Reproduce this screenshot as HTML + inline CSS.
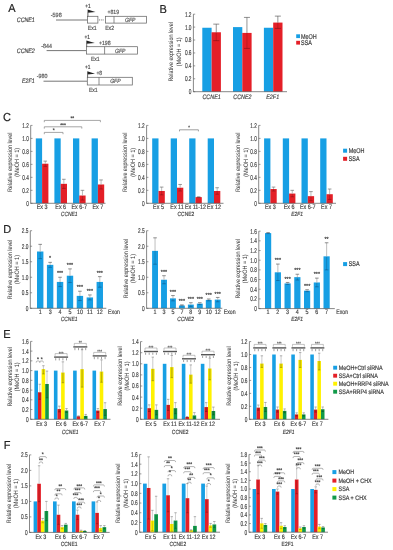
<!DOCTYPE html><html><head><meta charset="utf-8"><style>html,body{margin:0;padding:0;background:#fff;width:393px;height:550px;overflow:hidden}svg{display:block;filter:blur(0.35px)}text{text-rendering:geometricPrecision;font-family:"Liberation Sans", sans-serif}</style></head><body>
<svg width="393" height="550" viewBox="0 0 393 550">
<rect width="393" height="550" fill="#fff"/>
<text x="8.3" y="12.3" font-size="11.6" textLength="7.35" lengthAdjust="spacingAndGlyphs" fill="#222" stroke="#222" stroke-width="0.18">A</text>
<text x="159.4" y="12.6" font-size="11.6" textLength="7.35" lengthAdjust="spacingAndGlyphs" fill="#222" stroke="#222" stroke-width="0.18">B</text>
<text x="3.0" y="121.0" font-size="11.6" textLength="7.96" lengthAdjust="spacingAndGlyphs" fill="#222" stroke="#222" stroke-width="0.18">C</text>
<text x="3.2" y="232.6" font-size="11.6" textLength="7.96" lengthAdjust="spacingAndGlyphs" fill="#222" stroke="#222" stroke-width="0.18">D</text>
<text x="3.3" y="338.2" font-size="11.6" textLength="7.35" lengthAdjust="spacingAndGlyphs" fill="#222" stroke="#222" stroke-width="0.18">E</text>
<text x="3.8" y="448.6" font-size="11.6" textLength="6.73" lengthAdjust="spacingAndGlyphs" fill="#222" stroke="#222" stroke-width="0.18">F</text>
<text x="16.8" y="22.1" font-size="6.4" font-style="italic" textLength="18" lengthAdjust="spacingAndGlyphs" fill="#444" stroke="#444" stroke-width="0.18">CCNE1</text>
<text x="50.7" y="17.1" font-size="6.0" textLength="11" lengthAdjust="spacingAndGlyphs" fill="#555" stroke="#555" stroke-width="0.18">-598</text>
<line x1="56.00" y1="20.00" x2="87.60" y2="20.00" stroke="#666" stroke-width="0.9"/>
<rect x="87.60" y="16.30" width="10.30" height="6.80" fill="#fff" stroke="#666" stroke-width="0.75"/>
<line x1="87.90" y1="16.30" x2="87.90" y2="12.50" stroke="#222" stroke-width="0.7"/>
<polygon points="87.60,9.50 95.50,12.00 87.60,12.80" fill="#222"/>
<text x="85.3" y="7.7" font-size="6.0" textLength="5.47" lengthAdjust="spacingAndGlyphs" fill="#444" stroke="#444" stroke-width="0.18">+1</text>
<text x="92.2" y="29.6" font-size="6.0" text-anchor="middle" textLength="8.79" lengthAdjust="spacingAndGlyphs" fill="#555" stroke="#555" stroke-width="0.18">Ex1</text>
<rect x="98.95" y="19.50" width="0.90" height="0.90" fill="#555"/>
<rect x="100.85" y="19.50" width="0.90" height="0.90" fill="#555"/>
<rect x="102.65" y="19.50" width="0.90" height="0.90" fill="#555"/>
<rect x="105.50" y="16.30" width="41.10" height="6.80" fill="#fff" stroke="#666" stroke-width="0.75"/>
<line x1="114.00" y1="16.30" x2="114.00" y2="23.10" stroke="#666" stroke-width="0.75"/>
<text x="130.3" y="21.6" font-size="6.0" font-style="italic" text-anchor="middle" textLength="10.48" lengthAdjust="spacingAndGlyphs" fill="#555" stroke="#555" stroke-width="0.18">GFP</text>
<text x="107.4" y="13.7" font-size="6.0" textLength="11.7" lengthAdjust="spacingAndGlyphs" fill="#555" stroke="#555" stroke-width="0.18">+819</text>
<text x="109.6" y="29.8" font-size="6.0" text-anchor="middle" textLength="8.79" lengthAdjust="spacingAndGlyphs" fill="#555" stroke="#555" stroke-width="0.18">Ex2</text>
<text x="16.8" y="52.9" font-size="6.4" font-style="italic" textLength="18" lengthAdjust="spacingAndGlyphs" fill="#444" stroke="#444" stroke-width="0.18">CCNE2</text>
<text x="41.2" y="48.0" font-size="6.0" textLength="10.7" lengthAdjust="spacingAndGlyphs" fill="#555" stroke="#555" stroke-width="0.18">-844</text>
<line x1="46.60" y1="50.60" x2="86.40" y2="50.60" stroke="#666" stroke-width="0.9"/>
<rect x="86.40" y="46.70" width="51.20" height="7.40" fill="#fff" stroke="#666" stroke-width="0.75"/>
<line x1="104.60" y1="46.70" x2="104.60" y2="54.10" stroke="#666" stroke-width="0.75"/>
<text x="120.3" y="52.6" font-size="6.0" font-style="italic" text-anchor="middle" textLength="10.48" lengthAdjust="spacingAndGlyphs" fill="#555" stroke="#555" stroke-width="0.18">GFP</text>
<line x1="86.70" y1="46.70" x2="86.70" y2="43.40" stroke="#222" stroke-width="0.7"/>
<polygon points="86.40,40.40 94.80,42.90 86.40,43.70" fill="#222"/>
<text x="84.4" y="38.5" font-size="6.0" textLength="5.47" lengthAdjust="spacingAndGlyphs" fill="#444" stroke="#444" stroke-width="0.18">+1</text>
<text x="98.9" y="45.3" font-size="6.0" textLength="11.8" lengthAdjust="spacingAndGlyphs" fill="#555" stroke="#555" stroke-width="0.18">+198</text>
<text x="95.3" y="60.8" font-size="6.0" text-anchor="middle" textLength="8.79" lengthAdjust="spacingAndGlyphs" fill="#555" stroke="#555" stroke-width="0.18">Ex1</text>
<text x="22.1" y="83.2" font-size="6.4" font-style="italic" textLength="12.5" lengthAdjust="spacingAndGlyphs" fill="#444" stroke="#444" stroke-width="0.18">E2F1</text>
<text x="36.7" y="78.2" font-size="6.0" textLength="10.7" lengthAdjust="spacingAndGlyphs" fill="#555" stroke="#555" stroke-width="0.18">-980</text>
<line x1="43.50" y1="81.20" x2="87.30" y2="81.20" stroke="#666" stroke-width="0.9"/>
<rect x="87.30" y="77.30" width="45.00" height="7.70" fill="#fff" stroke="#666" stroke-width="0.75"/>
<line x1="99.00" y1="77.30" x2="99.00" y2="85.00" stroke="#666" stroke-width="0.75"/>
<text x="115.4" y="83.2" font-size="6.0" font-style="italic" text-anchor="middle" textLength="10.48" lengthAdjust="spacingAndGlyphs" fill="#555" stroke="#555" stroke-width="0.18">GFP</text>
<line x1="87.60" y1="77.30" x2="87.60" y2="74.30" stroke="#222" stroke-width="0.7"/>
<polygon points="87.30,71.30 95.00,73.80 87.30,74.60" fill="#222"/>
<text x="84.9" y="69.3" font-size="6.0" textLength="5.47" lengthAdjust="spacingAndGlyphs" fill="#444" stroke="#444" stroke-width="0.18">+1</text>
<text x="96.4" y="75.1" font-size="6.0" textLength="5.81" lengthAdjust="spacingAndGlyphs" fill="#555" stroke="#555" stroke-width="0.18">+8</text>
<text x="93.3" y="91.8" font-size="6.0" text-anchor="middle" textLength="8.79" lengthAdjust="spacingAndGlyphs" fill="#555" stroke="#555" stroke-width="0.18">Ex1</text>
<rect x="202.30" y="27.75" width="9.30" height="63.95" fill="#179fe4"/>
<rect x="211.60" y="32.27" width="9.30" height="59.43" fill="#e41f27"/>
<rect x="233.00" y="27.10" width="9.30" height="64.60" fill="#179fe4"/>
<rect x="242.30" y="32.91" width="9.30" height="58.79" fill="#e41f27"/>
<rect x="263.90" y="27.75" width="9.30" height="63.95" fill="#179fe4"/>
<rect x="273.20" y="22.58" width="9.30" height="69.12" fill="#e41f27"/>
<line x1="216.25" y1="24.13" x2="216.25" y2="32.27" stroke="#666" stroke-width="0.7"/>
<line x1="213.25" y1="24.13" x2="219.25" y2="24.13" stroke="#555" stroke-width="0.65"/>
<line x1="216.25" y1="32.27" x2="216.25" y2="40.67" stroke="rgba(0,0,0,0.28)" stroke-width="0.6"/>
<line x1="213.25" y1="40.67" x2="219.25" y2="40.67" stroke="rgba(0,0,0,0.45)" stroke-width="0.6"/>
<line x1="246.95" y1="17.41" x2="246.95" y2="32.91" stroke="#666" stroke-width="0.7"/>
<line x1="243.95" y1="17.41" x2="249.95" y2="17.41" stroke="#555" stroke-width="0.65"/>
<line x1="246.95" y1="32.91" x2="246.95" y2="48.42" stroke="rgba(0,0,0,0.28)" stroke-width="0.6"/>
<line x1="243.95" y1="48.42" x2="249.95" y2="48.42" stroke="rgba(0,0,0,0.45)" stroke-width="0.6"/>
<line x1="277.85" y1="16.12" x2="277.85" y2="22.58" stroke="#666" stroke-width="0.7"/>
<line x1="274.85" y1="16.12" x2="280.85" y2="16.12" stroke="#555" stroke-width="0.65"/>
<line x1="277.85" y1="22.58" x2="277.85" y2="28.39" stroke="rgba(0,0,0,0.28)" stroke-width="0.6"/>
<line x1="274.85" y1="28.39" x2="280.85" y2="28.39" stroke="rgba(0,0,0,0.45)" stroke-width="0.6"/>
<line x1="193.40" y1="14.18" x2="193.40" y2="92.05" stroke="#555" stroke-width="0.7"/>
<line x1="193.40" y1="91.70" x2="287.00" y2="91.70" stroke="#555" stroke-width="0.7"/>
<line x1="193.40" y1="91.70" x2="195.20" y2="91.70" stroke="#555" stroke-width="0.6"/>
<text x="191.5" y="94.15" font-size="7.0" text-anchor="end" textLength="2.65" lengthAdjust="spacingAndGlyphs" fill="#444" stroke="#444" stroke-width="0.18">0</text>
<line x1="193.40" y1="78.78" x2="195.20" y2="78.78" stroke="#555" stroke-width="0.6"/>
<text x="191.5" y="81.23" font-size="7.0" text-anchor="end" textLength="6.62" lengthAdjust="spacingAndGlyphs" fill="#444" stroke="#444" stroke-width="0.18">0.2</text>
<line x1="193.40" y1="65.86" x2="195.20" y2="65.86" stroke="#555" stroke-width="0.6"/>
<text x="191.5" y="68.31" font-size="7.0" text-anchor="end" textLength="6.62" lengthAdjust="spacingAndGlyphs" fill="#444" stroke="#444" stroke-width="0.18">0.4</text>
<line x1="193.40" y1="52.94" x2="195.20" y2="52.94" stroke="#555" stroke-width="0.6"/>
<text x="191.5" y="55.39000000000001" font-size="7.0" text-anchor="end" textLength="6.62" lengthAdjust="spacingAndGlyphs" fill="#444" stroke="#444" stroke-width="0.18">0.6</text>
<line x1="193.40" y1="40.02" x2="195.20" y2="40.02" stroke="#555" stroke-width="0.6"/>
<text x="191.5" y="42.470000000000006" font-size="7.0" text-anchor="end" textLength="6.62" lengthAdjust="spacingAndGlyphs" fill="#444" stroke="#444" stroke-width="0.18">0.8</text>
<line x1="193.40" y1="27.10" x2="195.20" y2="27.10" stroke="#555" stroke-width="0.6"/>
<text x="191.5" y="29.550000000000008" font-size="7.0" text-anchor="end" textLength="6.62" lengthAdjust="spacingAndGlyphs" fill="#444" stroke="#444" stroke-width="0.18">1.0</text>
<line x1="193.40" y1="14.18" x2="195.20" y2="14.18" stroke="#555" stroke-width="0.6"/>
<text x="191.5" y="16.630000000000006" font-size="7.0" text-anchor="end" textLength="6.62" lengthAdjust="spacingAndGlyphs" fill="#444" stroke="#444" stroke-width="0.18">1.2</text>
<text x="211.6" y="99.0" font-size="6.5" font-style="italic" text-anchor="middle" textLength="18.29" lengthAdjust="spacingAndGlyphs" fill="#444" stroke="#444" stroke-width="0.18">CCNE1</text>
<text x="242.4" y="99.0" font-size="6.5" font-style="italic" text-anchor="middle" textLength="18.29" lengthAdjust="spacingAndGlyphs" fill="#444" stroke="#444" stroke-width="0.18">CCNE2</text>
<text x="272.7" y="99.0" font-size="6.5" font-style="italic" text-anchor="middle" textLength="12.89" lengthAdjust="spacingAndGlyphs" fill="#444" stroke="#444" stroke-width="0.18">E2F1</text>
<text x="173.0" y="51.8" font-size="6.4" text-anchor="middle" textLength="59.5" lengthAdjust="spacingAndGlyphs" transform="rotate(-90 173.0 51.8)" fill="#333">Relative expression level</text>
<text x="181.1" y="51.8" font-size="6.4" text-anchor="middle" textLength="29.0" lengthAdjust="spacingAndGlyphs" transform="rotate(-90 181.1 51.8)" fill="#333">(MeOH = 1)</text>
<rect x="296.20" y="34.30" width="3.80" height="3.80" fill="#179fe4"/>
<text x="301.0" y="38.6" font-size="6.8" textLength="15.72" lengthAdjust="spacingAndGlyphs" fill="#3a3a3a" stroke="#3a3a3a" stroke-width="0.18">MeOH</text>
<rect x="296.20" y="40.80" width="3.80" height="3.80" fill="#e41f27"/>
<text x="301.0" y="45.0" font-size="6.8" textLength="10.89" lengthAdjust="spacingAndGlyphs" fill="#3a3a3a" stroke="#3a3a3a" stroke-width="0.18">SSA</text>
<rect x="35.80" y="138.40" width="6.30" height="64.90" fill="#179fe4"/>
<rect x="42.10" y="163.71" width="6.30" height="39.59" fill="#e41f27"/>
<rect x="54.40" y="138.40" width="6.30" height="64.90" fill="#179fe4"/>
<rect x="60.70" y="183.83" width="6.30" height="19.47" fill="#e41f27"/>
<rect x="73.00" y="138.40" width="6.30" height="64.90" fill="#179fe4"/>
<rect x="79.30" y="195.51" width="6.30" height="7.79" fill="#e41f27"/>
<rect x="91.60" y="138.40" width="6.30" height="64.90" fill="#179fe4"/>
<rect x="97.90" y="184.48" width="6.30" height="18.82" fill="#e41f27"/>
<line x1="45.25" y1="161.12" x2="45.25" y2="163.71" stroke="#bbb" stroke-width="1.0"/>
<line x1="43.45" y1="161.12" x2="47.05" y2="161.12" stroke="#666" stroke-width="0.65"/>
<line x1="45.25" y1="163.71" x2="45.25" y2="166.31" stroke="rgba(0,0,0,0.28)" stroke-width="0.6"/>
<line x1="43.45" y1="166.31" x2="47.05" y2="166.31" stroke="rgba(0,0,0,0.4)" stroke-width="0.6"/>
<line x1="63.85" y1="179.29" x2="63.85" y2="183.83" stroke="#bbb" stroke-width="1.0"/>
<line x1="62.05" y1="179.29" x2="65.65" y2="179.29" stroke="#666" stroke-width="0.65"/>
<line x1="63.85" y1="183.83" x2="63.85" y2="188.37" stroke="rgba(0,0,0,0.28)" stroke-width="0.6"/>
<line x1="62.05" y1="188.37" x2="65.65" y2="188.37" stroke="rgba(0,0,0,0.4)" stroke-width="0.6"/>
<line x1="82.45" y1="190.32" x2="82.45" y2="195.51" stroke="#bbb" stroke-width="1.0"/>
<line x1="80.65" y1="190.32" x2="84.25" y2="190.32" stroke="#666" stroke-width="0.65"/>
<line x1="82.45" y1="195.51" x2="82.45" y2="200.06" stroke="rgba(0,0,0,0.28)" stroke-width="0.6"/>
<line x1="80.65" y1="200.06" x2="84.25" y2="200.06" stroke="rgba(0,0,0,0.4)" stroke-width="0.6"/>
<line x1="101.05" y1="179.94" x2="101.05" y2="184.48" stroke="#bbb" stroke-width="1.0"/>
<line x1="99.25" y1="179.94" x2="102.85" y2="179.94" stroke="#666" stroke-width="0.65"/>
<line x1="101.05" y1="184.48" x2="101.05" y2="189.02" stroke="rgba(0,0,0,0.28)" stroke-width="0.6"/>
<line x1="99.25" y1="189.02" x2="102.85" y2="189.02" stroke="rgba(0,0,0,0.4)" stroke-width="0.6"/>
<line x1="30.70" y1="125.42" x2="30.70" y2="203.65" stroke="#555" stroke-width="0.7"/>
<line x1="30.70" y1="203.30" x2="105.50" y2="203.30" stroke="#555" stroke-width="0.7"/>
<line x1="30.70" y1="203.30" x2="32.50" y2="203.30" stroke="#555" stroke-width="0.6"/>
<text x="28.8" y="205.75" font-size="7.0" text-anchor="end" textLength="2.65" lengthAdjust="spacingAndGlyphs" fill="#444" stroke="#444" stroke-width="0.18">0</text>
<line x1="30.70" y1="190.32" x2="32.50" y2="190.32" stroke="#555" stroke-width="0.6"/>
<text x="28.8" y="192.77" font-size="7.0" text-anchor="end" textLength="6.62" lengthAdjust="spacingAndGlyphs" fill="#444" stroke="#444" stroke-width="0.18">0.2</text>
<line x1="30.70" y1="177.34" x2="32.50" y2="177.34" stroke="#555" stroke-width="0.6"/>
<text x="28.8" y="179.79" font-size="7.0" text-anchor="end" textLength="6.62" lengthAdjust="spacingAndGlyphs" fill="#444" stroke="#444" stroke-width="0.18">0.4</text>
<line x1="30.70" y1="164.36" x2="32.50" y2="164.36" stroke="#555" stroke-width="0.6"/>
<text x="28.8" y="166.81" font-size="7.0" text-anchor="end" textLength="6.62" lengthAdjust="spacingAndGlyphs" fill="#444" stroke="#444" stroke-width="0.18">0.6</text>
<line x1="30.70" y1="151.38" x2="32.50" y2="151.38" stroke="#555" stroke-width="0.6"/>
<text x="28.8" y="153.82999999999998" font-size="7.0" text-anchor="end" textLength="6.62" lengthAdjust="spacingAndGlyphs" fill="#444" stroke="#444" stroke-width="0.18">0.8</text>
<line x1="30.70" y1="138.40" x2="32.50" y2="138.40" stroke="#555" stroke-width="0.6"/>
<text x="28.8" y="140.85" font-size="7.0" text-anchor="end" textLength="6.62" lengthAdjust="spacingAndGlyphs" fill="#444" stroke="#444" stroke-width="0.18">1.0</text>
<line x1="30.70" y1="125.42" x2="32.50" y2="125.42" stroke="#555" stroke-width="0.6"/>
<text x="28.8" y="127.87" font-size="7.0" text-anchor="end" textLength="6.62" lengthAdjust="spacingAndGlyphs" fill="#444" stroke="#444" stroke-width="0.18">1.2</text>
<text x="42.099999999999994" y="209.4" font-size="6.5" text-anchor="middle" textLength="10.8" lengthAdjust="spacingAndGlyphs" fill="#444" stroke="#444" stroke-width="0.18">Ex 3</text>
<text x="60.699999999999996" y="209.4" font-size="6.5" text-anchor="middle" textLength="10.8" lengthAdjust="spacingAndGlyphs" fill="#444" stroke="#444" stroke-width="0.18">Ex 6</text>
<text x="79.3" y="209.4" font-size="6.5" text-anchor="middle" textLength="15.59" lengthAdjust="spacingAndGlyphs" fill="#444" stroke="#444" stroke-width="0.18">Ex 6-7</text>
<text x="97.89999999999999" y="209.4" font-size="6.5" text-anchor="middle" textLength="10.8" lengthAdjust="spacingAndGlyphs" fill="#444" stroke="#444" stroke-width="0.18">Ex 7</text>
<text x="69.2" y="216.4" font-size="6.0" font-style="italic" text-anchor="middle" textLength="16.68" lengthAdjust="spacingAndGlyphs" fill="#444" stroke="#444" stroke-width="0.18">CCNE1</text>
<text x="12.2" y="162.3" font-size="6.4" text-anchor="middle" textLength="59.5" lengthAdjust="spacingAndGlyphs" transform="rotate(-90 12.2 162.3)" fill="#333">Relative expression level</text>
<text x="19.099999999999998" y="162.3" font-size="6.4" text-anchor="middle" textLength="29.0" lengthAdjust="spacingAndGlyphs" transform="rotate(-90 19.099999999999998 162.3)" fill="#333">(MeOH = 1)</text>
<line x1="44.30" y1="120.40" x2="100.40" y2="120.40" stroke="#888" stroke-width="0.75"/>
<line x1="44.30" y1="120.40" x2="44.30" y2="122.20" stroke="#888" stroke-width="0.75"/>
<line x1="100.40" y1="120.40" x2="100.40" y2="122.20" stroke="#888" stroke-width="0.75"/>
<text x="72.35" y="120.2" font-size="5.4" text-anchor="middle" textLength="3.78" lengthAdjust="spacingAndGlyphs" fill="#444" stroke="#444" stroke-width="0.18">**</text>
<line x1="44.30" y1="126.80" x2="81.80" y2="126.80" stroke="#888" stroke-width="0.75"/>
<line x1="44.30" y1="126.80" x2="44.30" y2="128.60" stroke="#888" stroke-width="0.75"/>
<line x1="81.80" y1="126.80" x2="81.80" y2="128.60" stroke="#888" stroke-width="0.75"/>
<text x="63.05" y="126.6" font-size="5.4" text-anchor="middle" textLength="5.67" lengthAdjust="spacingAndGlyphs" fill="#444" stroke="#444" stroke-width="0.18">***</text>
<line x1="44.30" y1="132.40" x2="63.00" y2="132.40" stroke="#888" stroke-width="0.75"/>
<line x1="44.30" y1="132.40" x2="44.30" y2="134.20" stroke="#888" stroke-width="0.75"/>
<line x1="63.00" y1="132.40" x2="63.00" y2="134.20" stroke="#888" stroke-width="0.75"/>
<text x="53.65" y="132.20000000000002" font-size="5.4" text-anchor="middle" textLength="1.89" lengthAdjust="spacingAndGlyphs" fill="#444" stroke="#444" stroke-width="0.18">*</text>
<rect x="152.20" y="138.40" width="6.30" height="64.90" fill="#179fe4"/>
<rect x="158.50" y="190.97" width="6.30" height="12.33" fill="#e41f27"/>
<rect x="170.70" y="138.40" width="6.30" height="64.90" fill="#179fe4"/>
<rect x="177.00" y="187.72" width="6.30" height="15.58" fill="#e41f27"/>
<rect x="189.20" y="138.40" width="6.30" height="64.90" fill="#179fe4"/>
<rect x="195.50" y="197.13" width="6.30" height="6.17" fill="#e41f27"/>
<rect x="207.70" y="138.40" width="6.30" height="64.90" fill="#179fe4"/>
<rect x="214.00" y="190.97" width="6.30" height="12.33" fill="#e41f27"/>
<line x1="161.65" y1="187.08" x2="161.65" y2="190.97" stroke="#bbb" stroke-width="1.0"/>
<line x1="159.85" y1="187.08" x2="163.45" y2="187.08" stroke="#666" stroke-width="0.65"/>
<line x1="161.65" y1="190.97" x2="161.65" y2="194.86" stroke="rgba(0,0,0,0.28)" stroke-width="0.6"/>
<line x1="159.85" y1="194.86" x2="163.45" y2="194.86" stroke="rgba(0,0,0,0.4)" stroke-width="0.6"/>
<line x1="180.15" y1="184.48" x2="180.15" y2="187.72" stroke="#bbb" stroke-width="1.0"/>
<line x1="178.35" y1="184.48" x2="181.95" y2="184.48" stroke="#666" stroke-width="0.65"/>
<line x1="180.15" y1="187.72" x2="180.15" y2="190.97" stroke="rgba(0,0,0,0.28)" stroke-width="0.6"/>
<line x1="178.35" y1="190.97" x2="181.95" y2="190.97" stroke="rgba(0,0,0,0.4)" stroke-width="0.6"/>
<line x1="198.65" y1="196.81" x2="198.65" y2="197.13" stroke="#bbb" stroke-width="1.0"/>
<line x1="196.85" y1="196.81" x2="200.45" y2="196.81" stroke="#666" stroke-width="0.65"/>
<line x1="198.65" y1="197.13" x2="198.65" y2="197.46" stroke="rgba(0,0,0,0.28)" stroke-width="0.6"/>
<line x1="196.85" y1="197.46" x2="200.45" y2="197.46" stroke="rgba(0,0,0,0.4)" stroke-width="0.6"/>
<line x1="217.15" y1="187.72" x2="217.15" y2="190.97" stroke="#bbb" stroke-width="1.0"/>
<line x1="215.35" y1="187.72" x2="218.95" y2="187.72" stroke="#666" stroke-width="0.65"/>
<line x1="217.15" y1="190.97" x2="217.15" y2="194.21" stroke="rgba(0,0,0,0.28)" stroke-width="0.6"/>
<line x1="215.35" y1="194.21" x2="218.95" y2="194.21" stroke="rgba(0,0,0,0.4)" stroke-width="0.6"/>
<line x1="146.60" y1="125.42" x2="146.60" y2="203.65" stroke="#555" stroke-width="0.7"/>
<line x1="146.60" y1="203.30" x2="223.50" y2="203.30" stroke="#555" stroke-width="0.7"/>
<line x1="146.60" y1="203.30" x2="148.40" y2="203.30" stroke="#555" stroke-width="0.6"/>
<text x="144.7" y="205.75" font-size="7.0" text-anchor="end" textLength="2.65" lengthAdjust="spacingAndGlyphs" fill="#444" stroke="#444" stroke-width="0.18">0</text>
<line x1="146.60" y1="190.32" x2="148.40" y2="190.32" stroke="#555" stroke-width="0.6"/>
<text x="144.7" y="192.77" font-size="7.0" text-anchor="end" textLength="6.62" lengthAdjust="spacingAndGlyphs" fill="#444" stroke="#444" stroke-width="0.18">0.2</text>
<line x1="146.60" y1="177.34" x2="148.40" y2="177.34" stroke="#555" stroke-width="0.6"/>
<text x="144.7" y="179.79" font-size="7.0" text-anchor="end" textLength="6.62" lengthAdjust="spacingAndGlyphs" fill="#444" stroke="#444" stroke-width="0.18">0.4</text>
<line x1="146.60" y1="164.36" x2="148.40" y2="164.36" stroke="#555" stroke-width="0.6"/>
<text x="144.7" y="166.81" font-size="7.0" text-anchor="end" textLength="6.62" lengthAdjust="spacingAndGlyphs" fill="#444" stroke="#444" stroke-width="0.18">0.6</text>
<line x1="146.60" y1="151.38" x2="148.40" y2="151.38" stroke="#555" stroke-width="0.6"/>
<text x="144.7" y="153.82999999999998" font-size="7.0" text-anchor="end" textLength="6.62" lengthAdjust="spacingAndGlyphs" fill="#444" stroke="#444" stroke-width="0.18">0.8</text>
<line x1="146.60" y1="138.40" x2="148.40" y2="138.40" stroke="#555" stroke-width="0.6"/>
<text x="144.7" y="140.85" font-size="7.0" text-anchor="end" textLength="6.62" lengthAdjust="spacingAndGlyphs" fill="#444" stroke="#444" stroke-width="0.18">1.0</text>
<line x1="146.60" y1="125.42" x2="148.40" y2="125.42" stroke="#555" stroke-width="0.6"/>
<text x="144.7" y="127.87" font-size="7.0" text-anchor="end" textLength="6.62" lengthAdjust="spacingAndGlyphs" fill="#444" stroke="#444" stroke-width="0.18">1.2</text>
<text x="158.5" y="209.4" font-size="6.5" text-anchor="middle" textLength="10.8" lengthAdjust="spacingAndGlyphs" fill="#444" stroke="#444" stroke-width="0.18">Ex 5</text>
<text x="177.0" y="209.4" font-size="6.5" text-anchor="middle" textLength="13.39" lengthAdjust="spacingAndGlyphs" fill="#444" stroke="#444" stroke-width="0.18">Ex 11</text>
<text x="195.5" y="209.4" font-size="6.5" text-anchor="middle" textLength="21.19" lengthAdjust="spacingAndGlyphs" fill="#444" stroke="#444" stroke-width="0.18">Ex 11-12</text>
<text x="214.0" y="209.4" font-size="6.5" text-anchor="middle" textLength="13.8" lengthAdjust="spacingAndGlyphs" fill="#444" stroke="#444" stroke-width="0.18">Ex 12</text>
<text x="185.9" y="216.4" font-size="6.0" text-anchor="middle" textLength="16.68" lengthAdjust="spacingAndGlyphs" fill="#444" stroke="#444" stroke-width="0.18">CCNE2</text>
<text x="127.2" y="162.3" font-size="6.4" text-anchor="middle" textLength="59.5" lengthAdjust="spacingAndGlyphs" transform="rotate(-90 127.2 162.3)" fill="#333">Relative expression level</text>
<text x="135.4" y="162.3" font-size="6.4" text-anchor="middle" textLength="29.0" lengthAdjust="spacingAndGlyphs" transform="rotate(-90 135.4 162.3)" fill="#333">(MeOH = 1)</text>
<line x1="179.50" y1="129.80" x2="198.40" y2="129.80" stroke="#777" stroke-width="0.7"/>
<line x1="179.50" y1="129.80" x2="179.50" y2="131.40" stroke="#777" stroke-width="0.7"/>
<line x1="198.40" y1="129.80" x2="198.40" y2="131.40" stroke="#777" stroke-width="0.7"/>
<text x="189" y="129.3" font-size="5" text-anchor="middle" textLength="1.65" lengthAdjust="spacingAndGlyphs" fill="#444" stroke="#444" stroke-width="0.18">*</text>
<rect x="264.10" y="138.40" width="6.30" height="64.90" fill="#179fe4"/>
<rect x="270.40" y="189.02" width="6.30" height="14.28" fill="#e41f27"/>
<rect x="282.80" y="138.40" width="6.30" height="64.90" fill="#179fe4"/>
<rect x="289.10" y="193.56" width="6.30" height="9.74" fill="#e41f27"/>
<rect x="301.50" y="138.40" width="6.30" height="64.90" fill="#179fe4"/>
<rect x="307.80" y="196.16" width="6.30" height="7.14" fill="#e41f27"/>
<rect x="320.20" y="138.40" width="6.30" height="64.90" fill="#179fe4"/>
<rect x="326.50" y="194.21" width="6.30" height="9.09" fill="#e41f27"/>
<line x1="273.55" y1="187.08" x2="273.55" y2="189.02" stroke="#bbb" stroke-width="1.0"/>
<line x1="271.75" y1="187.08" x2="275.35" y2="187.08" stroke="#666" stroke-width="0.65"/>
<line x1="273.55" y1="189.02" x2="273.55" y2="190.97" stroke="rgba(0,0,0,0.28)" stroke-width="0.6"/>
<line x1="271.75" y1="190.97" x2="275.35" y2="190.97" stroke="rgba(0,0,0,0.4)" stroke-width="0.6"/>
<line x1="292.25" y1="190.32" x2="292.25" y2="193.56" stroke="#bbb" stroke-width="1.0"/>
<line x1="290.45" y1="190.32" x2="294.05" y2="190.32" stroke="#666" stroke-width="0.65"/>
<line x1="292.25" y1="193.56" x2="292.25" y2="196.81" stroke="rgba(0,0,0,0.28)" stroke-width="0.6"/>
<line x1="290.45" y1="196.81" x2="294.05" y2="196.81" stroke="rgba(0,0,0,0.4)" stroke-width="0.6"/>
<line x1="310.95" y1="191.62" x2="310.95" y2="196.16" stroke="#bbb" stroke-width="1.0"/>
<line x1="309.15" y1="191.62" x2="312.75" y2="191.62" stroke="#666" stroke-width="0.65"/>
<line x1="310.95" y1="196.16" x2="310.95" y2="200.70" stroke="rgba(0,0,0,0.28)" stroke-width="0.6"/>
<line x1="309.15" y1="200.70" x2="312.75" y2="200.70" stroke="rgba(0,0,0,0.4)" stroke-width="0.6"/>
<line x1="329.65" y1="189.02" x2="329.65" y2="194.21" stroke="#bbb" stroke-width="1.0"/>
<line x1="327.85" y1="189.02" x2="331.45" y2="189.02" stroke="#666" stroke-width="0.65"/>
<line x1="329.65" y1="194.21" x2="329.65" y2="199.41" stroke="rgba(0,0,0,0.28)" stroke-width="0.6"/>
<line x1="327.85" y1="199.41" x2="331.45" y2="199.41" stroke="rgba(0,0,0,0.4)" stroke-width="0.6"/>
<line x1="258.70" y1="125.42" x2="258.70" y2="203.65" stroke="#555" stroke-width="0.7"/>
<line x1="258.70" y1="203.30" x2="336.00" y2="203.30" stroke="#555" stroke-width="0.7"/>
<line x1="258.70" y1="203.30" x2="260.50" y2="203.30" stroke="#555" stroke-width="0.6"/>
<text x="256.8" y="205.75" font-size="7.0" text-anchor="end" textLength="2.65" lengthAdjust="spacingAndGlyphs" fill="#444" stroke="#444" stroke-width="0.18">0</text>
<line x1="258.70" y1="190.32" x2="260.50" y2="190.32" stroke="#555" stroke-width="0.6"/>
<text x="256.8" y="192.77" font-size="7.0" text-anchor="end" textLength="6.62" lengthAdjust="spacingAndGlyphs" fill="#444" stroke="#444" stroke-width="0.18">0.2</text>
<line x1="258.70" y1="177.34" x2="260.50" y2="177.34" stroke="#555" stroke-width="0.6"/>
<text x="256.8" y="179.79" font-size="7.0" text-anchor="end" textLength="6.62" lengthAdjust="spacingAndGlyphs" fill="#444" stroke="#444" stroke-width="0.18">0.4</text>
<line x1="258.70" y1="164.36" x2="260.50" y2="164.36" stroke="#555" stroke-width="0.6"/>
<text x="256.8" y="166.81" font-size="7.0" text-anchor="end" textLength="6.62" lengthAdjust="spacingAndGlyphs" fill="#444" stroke="#444" stroke-width="0.18">0.6</text>
<line x1="258.70" y1="151.38" x2="260.50" y2="151.38" stroke="#555" stroke-width="0.6"/>
<text x="256.8" y="153.82999999999998" font-size="7.0" text-anchor="end" textLength="6.62" lengthAdjust="spacingAndGlyphs" fill="#444" stroke="#444" stroke-width="0.18">0.8</text>
<line x1="258.70" y1="138.40" x2="260.50" y2="138.40" stroke="#555" stroke-width="0.6"/>
<text x="256.8" y="140.85" font-size="7.0" text-anchor="end" textLength="6.62" lengthAdjust="spacingAndGlyphs" fill="#444" stroke="#444" stroke-width="0.18">1.0</text>
<line x1="258.70" y1="125.42" x2="260.50" y2="125.42" stroke="#555" stroke-width="0.6"/>
<text x="256.8" y="127.87" font-size="7.0" text-anchor="end" textLength="6.62" lengthAdjust="spacingAndGlyphs" fill="#444" stroke="#444" stroke-width="0.18">1.2</text>
<text x="270.40000000000003" y="209.4" font-size="6.5" text-anchor="middle" textLength="10.8" lengthAdjust="spacingAndGlyphs" fill="#444" stroke="#444" stroke-width="0.18">Ex 3</text>
<text x="289.1" y="209.4" font-size="6.5" text-anchor="middle" textLength="10.8" lengthAdjust="spacingAndGlyphs" fill="#444" stroke="#444" stroke-width="0.18">Ex 6</text>
<text x="307.8" y="209.4" font-size="6.5" text-anchor="middle" textLength="15.59" lengthAdjust="spacingAndGlyphs" fill="#444" stroke="#444" stroke-width="0.18">Ex 6-7</text>
<text x="326.5" y="209.4" font-size="6.5" text-anchor="middle" textLength="10.8" lengthAdjust="spacingAndGlyphs" fill="#444" stroke="#444" stroke-width="0.18">Ex 7</text>
<text x="297.1" y="216.4" font-size="6.0" font-style="italic" text-anchor="middle" textLength="11.76" lengthAdjust="spacingAndGlyphs" fill="#444" stroke="#444" stroke-width="0.18">E2F1</text>
<text x="240.5" y="162.3" font-size="6.4" text-anchor="middle" textLength="59.5" lengthAdjust="spacingAndGlyphs" transform="rotate(-90 240.5 162.3)" fill="#333">Relative expression level</text>
<text x="247.9" y="162.3" font-size="6.4" text-anchor="middle" textLength="29.0" lengthAdjust="spacingAndGlyphs" transform="rotate(-90 247.9 162.3)" fill="#333">(MeOH = 1)</text>
<rect x="343.10" y="148.70" width="4.00" height="4.00" fill="#179fe4"/>
<text x="348.7" y="152.8" font-size="6.8" textLength="15.72" lengthAdjust="spacingAndGlyphs" fill="#3a3a3a" stroke="#3a3a3a" stroke-width="0.18">MeOH</text>
<rect x="343.10" y="156.80" width="4.00" height="4.00" fill="#e41f27"/>
<text x="348.7" y="160.6" font-size="6.8" textLength="10.89" lengthAdjust="spacingAndGlyphs" fill="#3a3a3a" stroke="#3a3a3a" stroke-width="0.18">SSA</text>
<rect x="37.00" y="251.50" width="6.40" height="56.80" fill="#179fe4"/>
<rect x="46.93" y="264.84" width="6.40" height="43.46" fill="#179fe4"/>
<rect x="56.86" y="281.92" width="6.40" height="26.38" fill="#179fe4"/>
<rect x="66.79" y="275.71" width="6.40" height="32.59" fill="#179fe4"/>
<rect x="76.72" y="295.88" width="6.40" height="12.42" fill="#179fe4"/>
<rect x="86.65" y="297.44" width="6.40" height="10.86" fill="#179fe4"/>
<rect x="96.58" y="281.92" width="6.40" height="26.38" fill="#179fe4"/>
<line x1="40.20" y1="244.36" x2="40.20" y2="251.50" stroke="#c4c4c4" stroke-width="1.1"/>
<line x1="38.40" y1="244.36" x2="42.00" y2="244.36" stroke="#555" stroke-width="0.65"/>
<line x1="40.20" y1="251.50" x2="40.20" y2="258.64" stroke="rgba(0,0,0,0.28)" stroke-width="0.6"/>
<line x1="38.40" y1="258.64" x2="42.00" y2="258.64" stroke="rgba(0,0,40,0.45)" stroke-width="0.6"/>
<line x1="50.13" y1="262.36" x2="50.13" y2="264.84" stroke="#c4c4c4" stroke-width="1.1"/>
<line x1="48.33" y1="262.36" x2="51.93" y2="262.36" stroke="#555" stroke-width="0.65"/>
<line x1="50.13" y1="264.84" x2="50.13" y2="267.33" stroke="rgba(0,0,0,0.28)" stroke-width="0.6"/>
<line x1="48.33" y1="267.33" x2="51.93" y2="267.33" stroke="rgba(0,0,40,0.45)" stroke-width="0.6"/>
<line x1="60.06" y1="277.26" x2="60.06" y2="281.92" stroke="#c4c4c4" stroke-width="1.1"/>
<line x1="58.26" y1="277.26" x2="61.86" y2="277.26" stroke="#555" stroke-width="0.65"/>
<line x1="60.06" y1="281.92" x2="60.06" y2="286.57" stroke="rgba(0,0,0,0.28)" stroke-width="0.6"/>
<line x1="58.26" y1="286.57" x2="61.86" y2="286.57" stroke="rgba(0,0,40,0.45)" stroke-width="0.6"/>
<line x1="69.99" y1="268.88" x2="69.99" y2="275.71" stroke="#c4c4c4" stroke-width="1.1"/>
<line x1="68.19" y1="268.88" x2="71.79" y2="268.88" stroke="#555" stroke-width="0.65"/>
<line x1="69.99" y1="275.71" x2="69.99" y2="282.54" stroke="rgba(0,0,0,0.28)" stroke-width="0.6"/>
<line x1="68.19" y1="282.54" x2="71.79" y2="282.54" stroke="rgba(0,0,40,0.45)" stroke-width="0.6"/>
<line x1="79.92" y1="291.23" x2="79.92" y2="295.88" stroke="#c4c4c4" stroke-width="1.1"/>
<line x1="78.12" y1="291.23" x2="81.72" y2="291.23" stroke="#555" stroke-width="0.65"/>
<line x1="79.92" y1="295.88" x2="79.92" y2="300.54" stroke="rgba(0,0,0,0.28)" stroke-width="0.6"/>
<line x1="78.12" y1="300.54" x2="81.72" y2="300.54" stroke="rgba(0,0,40,0.45)" stroke-width="0.6"/>
<line x1="89.85" y1="294.95" x2="89.85" y2="297.44" stroke="#c4c4c4" stroke-width="1.1"/>
<line x1="88.05" y1="294.95" x2="91.65" y2="294.95" stroke="#555" stroke-width="0.65"/>
<line x1="89.85" y1="297.44" x2="89.85" y2="299.92" stroke="rgba(0,0,0,0.28)" stroke-width="0.6"/>
<line x1="88.05" y1="299.92" x2="91.65" y2="299.92" stroke="rgba(0,0,40,0.45)" stroke-width="0.6"/>
<line x1="99.78" y1="276.64" x2="99.78" y2="281.92" stroke="#c4c4c4" stroke-width="1.1"/>
<line x1="97.98" y1="276.64" x2="101.58" y2="276.64" stroke="#555" stroke-width="0.65"/>
<line x1="99.78" y1="281.92" x2="99.78" y2="287.19" stroke="rgba(0,0,0,0.28)" stroke-width="0.6"/>
<line x1="97.98" y1="287.19" x2="101.58" y2="287.19" stroke="rgba(0,0,40,0.45)" stroke-width="0.6"/>
<line x1="30.30" y1="230.70" x2="30.30" y2="308.65" stroke="#555" stroke-width="0.7"/>
<line x1="30.30" y1="308.30" x2="106.30" y2="308.30" stroke="#555" stroke-width="0.7"/>
<line x1="30.30" y1="308.30" x2="32.10" y2="308.30" stroke="#555" stroke-width="0.6"/>
<text x="28.400000000000002" y="310.75" font-size="7.0" text-anchor="end" textLength="2.65" lengthAdjust="spacingAndGlyphs" fill="#444" stroke="#444" stroke-width="0.18">0</text>
<line x1="30.30" y1="292.78" x2="32.10" y2="292.78" stroke="#555" stroke-width="0.6"/>
<text x="28.400000000000002" y="295.23" font-size="7.0" text-anchor="end" textLength="6.62" lengthAdjust="spacingAndGlyphs" fill="#444" stroke="#444" stroke-width="0.18">0.5</text>
<line x1="30.30" y1="277.26" x2="32.10" y2="277.26" stroke="#555" stroke-width="0.6"/>
<text x="28.400000000000002" y="279.71" font-size="7.0" text-anchor="end" textLength="6.62" lengthAdjust="spacingAndGlyphs" fill="#444" stroke="#444" stroke-width="0.18">1.0</text>
<line x1="30.30" y1="261.74" x2="32.10" y2="261.74" stroke="#555" stroke-width="0.6"/>
<text x="28.400000000000002" y="264.19" font-size="7.0" text-anchor="end" textLength="6.62" lengthAdjust="spacingAndGlyphs" fill="#444" stroke="#444" stroke-width="0.18">1.5</text>
<line x1="30.30" y1="246.22" x2="32.10" y2="246.22" stroke="#555" stroke-width="0.6"/>
<text x="28.400000000000002" y="248.67000000000002" font-size="7.0" text-anchor="end" textLength="6.62" lengthAdjust="spacingAndGlyphs" fill="#444" stroke="#444" stroke-width="0.18">2.0</text>
<line x1="30.30" y1="230.70" x2="32.10" y2="230.70" stroke="#555" stroke-width="0.6"/>
<text x="28.400000000000002" y="233.15" font-size="7.0" text-anchor="end" textLength="6.62" lengthAdjust="spacingAndGlyphs" fill="#444" stroke="#444" stroke-width="0.18">2.5</text>
<text x="40.2" y="314.1" font-size="6.5" text-anchor="middle" textLength="3.0" lengthAdjust="spacingAndGlyphs" fill="#444" stroke="#444" stroke-width="0.18">1</text>
<text x="50.13" y="314.1" font-size="6.5" text-anchor="middle" textLength="3.0" lengthAdjust="spacingAndGlyphs" fill="#444" stroke="#444" stroke-width="0.18">3</text>
<text x="60.06" y="314.1" font-size="6.5" text-anchor="middle" textLength="3.0" lengthAdjust="spacingAndGlyphs" fill="#444" stroke="#444" stroke-width="0.18">4</text>
<text x="69.99" y="314.1" font-size="6.5" text-anchor="middle" textLength="3.0" lengthAdjust="spacingAndGlyphs" fill="#444" stroke="#444" stroke-width="0.18">5</text>
<text x="79.92" y="314.1" font-size="6.5" text-anchor="middle" textLength="6.0" lengthAdjust="spacingAndGlyphs" fill="#444" stroke="#444" stroke-width="0.18">10</text>
<text x="89.85000000000001" y="314.1" font-size="6.5" text-anchor="middle" textLength="5.6" lengthAdjust="spacingAndGlyphs" fill="#444" stroke="#444" stroke-width="0.18">11</text>
<text x="99.78" y="314.1" font-size="6.5" text-anchor="middle" textLength="6.0" lengthAdjust="spacingAndGlyphs" fill="#444" stroke="#444" stroke-width="0.18">12</text>
<text x="69.1" y="321.4" font-size="6.0" font-style="italic" text-anchor="middle" textLength="16.68" lengthAdjust="spacingAndGlyphs" fill="#444" stroke="#444" stroke-width="0.18">CCNE1</text>
<text x="12.2" y="269.5" font-size="6.4" text-anchor="middle" textLength="59.5" lengthAdjust="spacingAndGlyphs" transform="rotate(-90 12.2 269.5)" fill="#333">Relative expression level</text>
<text x="19.2" y="269.5" font-size="6.4" text-anchor="middle" textLength="29.0" lengthAdjust="spacingAndGlyphs" transform="rotate(-90 19.2 269.5)" fill="#333">(MeOH = 1)</text>
<text x="108.1" y="313.8" font-size="6.5" textLength="11.85" lengthAdjust="spacingAndGlyphs" fill="#444" stroke="#444" stroke-width="0.18">Exon</text>
<text x="50.13" y="260.46080000000006" font-size="6.0" text-anchor="middle" textLength="2.1" lengthAdjust="spacingAndGlyphs" fill="#333" stroke="#333" stroke-width="0.18">*</text>
<text x="60.06" y="275.36" font-size="6.0" text-anchor="middle" textLength="6.31" lengthAdjust="spacingAndGlyphs" fill="#333" stroke="#333" stroke-width="0.18">***</text>
<text x="69.99" y="266.97920000000005" font-size="6.0" text-anchor="middle" textLength="6.31" lengthAdjust="spacingAndGlyphs" fill="#333" stroke="#333" stroke-width="0.18">***</text>
<text x="79.92" y="289.32800000000003" font-size="6.0" text-anchor="middle" textLength="6.31" lengthAdjust="spacingAndGlyphs" fill="#333" stroke="#333" stroke-width="0.18">***</text>
<text x="89.85000000000001" y="293.05280000000005" font-size="6.0" text-anchor="middle" textLength="6.31" lengthAdjust="spacingAndGlyphs" fill="#333" stroke="#333" stroke-width="0.18">***</text>
<text x="99.78" y="274.73920000000004" font-size="6.0" text-anchor="middle" textLength="6.31" lengthAdjust="spacingAndGlyphs" fill="#333" stroke="#333" stroke-width="0.18">***</text>
<rect x="152.10" y="250.88" width="5.90" height="57.42" fill="#179fe4"/>
<rect x="161.05" y="279.74" width="5.90" height="28.56" fill="#179fe4"/>
<rect x="170.00" y="298.37" width="5.90" height="9.93" fill="#179fe4"/>
<rect x="178.95" y="305.51" width="5.90" height="2.79" fill="#179fe4"/>
<rect x="187.90" y="304.58" width="5.90" height="3.72" fill="#179fe4"/>
<rect x="196.85" y="303.64" width="5.90" height="4.66" fill="#179fe4"/>
<rect x="205.80" y="299.92" width="5.90" height="8.38" fill="#179fe4"/>
<rect x="214.75" y="299.61" width="5.90" height="8.69" fill="#179fe4"/>
<line x1="155.05" y1="237.84" x2="155.05" y2="250.88" stroke="#c4c4c4" stroke-width="1.1"/>
<line x1="153.25" y1="237.84" x2="156.85" y2="237.84" stroke="#555" stroke-width="0.65"/>
<line x1="155.05" y1="250.88" x2="155.05" y2="264.22" stroke="rgba(0,0,0,0.28)" stroke-width="0.6"/>
<line x1="153.25" y1="264.22" x2="156.85" y2="264.22" stroke="rgba(0,0,40,0.45)" stroke-width="0.6"/>
<line x1="164.00" y1="275.71" x2="164.00" y2="279.74" stroke="#c4c4c4" stroke-width="1.1"/>
<line x1="162.20" y1="275.71" x2="165.80" y2="275.71" stroke="#555" stroke-width="0.65"/>
<line x1="164.00" y1="279.74" x2="164.00" y2="283.78" stroke="rgba(0,0,0,0.28)" stroke-width="0.6"/>
<line x1="162.20" y1="283.78" x2="165.80" y2="283.78" stroke="rgba(0,0,40,0.45)" stroke-width="0.6"/>
<line x1="172.95" y1="295.57" x2="172.95" y2="298.37" stroke="#c4c4c4" stroke-width="1.1"/>
<line x1="171.15" y1="295.57" x2="174.75" y2="295.57" stroke="#555" stroke-width="0.65"/>
<line x1="172.95" y1="298.37" x2="172.95" y2="300.85" stroke="rgba(0,0,0,0.28)" stroke-width="0.6"/>
<line x1="171.15" y1="300.85" x2="174.75" y2="300.85" stroke="rgba(0,0,40,0.45)" stroke-width="0.6"/>
<line x1="181.90" y1="304.89" x2="181.90" y2="305.51" stroke="#c4c4c4" stroke-width="1.1"/>
<line x1="180.10" y1="304.89" x2="183.70" y2="304.89" stroke="#555" stroke-width="0.65"/>
<line x1="181.90" y1="305.51" x2="181.90" y2="305.82" stroke="rgba(0,0,0,0.28)" stroke-width="0.6"/>
<line x1="180.10" y1="305.82" x2="183.70" y2="305.82" stroke="rgba(0,0,40,0.45)" stroke-width="0.6"/>
<line x1="190.85" y1="302.71" x2="190.85" y2="304.58" stroke="#c4c4c4" stroke-width="1.1"/>
<line x1="189.05" y1="302.71" x2="192.65" y2="302.71" stroke="#555" stroke-width="0.65"/>
<line x1="190.85" y1="304.58" x2="190.85" y2="306.44" stroke="rgba(0,0,0,0.28)" stroke-width="0.6"/>
<line x1="189.05" y1="306.44" x2="192.65" y2="306.44" stroke="rgba(0,0,40,0.45)" stroke-width="0.6"/>
<line x1="199.80" y1="302.71" x2="199.80" y2="303.64" stroke="#c4c4c4" stroke-width="1.1"/>
<line x1="198.00" y1="302.71" x2="201.60" y2="302.71" stroke="#555" stroke-width="0.65"/>
<line x1="199.80" y1="303.64" x2="199.80" y2="304.58" stroke="rgba(0,0,0,0.28)" stroke-width="0.6"/>
<line x1="198.00" y1="304.58" x2="201.60" y2="304.58" stroke="rgba(0,0,40,0.45)" stroke-width="0.6"/>
<line x1="208.75" y1="298.99" x2="208.75" y2="299.92" stroke="#c4c4c4" stroke-width="1.1"/>
<line x1="206.95" y1="298.99" x2="210.55" y2="298.99" stroke="#555" stroke-width="0.65"/>
<line x1="208.75" y1="299.92" x2="208.75" y2="300.85" stroke="rgba(0,0,0,0.28)" stroke-width="0.6"/>
<line x1="206.95" y1="300.85" x2="210.55" y2="300.85" stroke="rgba(0,0,40,0.45)" stroke-width="0.6"/>
<line x1="217.70" y1="297.44" x2="217.70" y2="299.61" stroke="#c4c4c4" stroke-width="1.1"/>
<line x1="215.90" y1="297.44" x2="219.50" y2="297.44" stroke="#555" stroke-width="0.65"/>
<line x1="217.70" y1="299.61" x2="217.70" y2="301.78" stroke="rgba(0,0,0,0.28)" stroke-width="0.6"/>
<line x1="215.90" y1="301.78" x2="219.50" y2="301.78" stroke="rgba(0,0,40,0.45)" stroke-width="0.6"/>
<line x1="146.60" y1="230.70" x2="146.60" y2="308.65" stroke="#555" stroke-width="0.7"/>
<line x1="146.60" y1="308.30" x2="222.30" y2="308.30" stroke="#555" stroke-width="0.7"/>
<line x1="146.60" y1="308.30" x2="148.40" y2="308.30" stroke="#555" stroke-width="0.6"/>
<text x="144.7" y="310.75" font-size="7.0" text-anchor="end" textLength="2.65" lengthAdjust="spacingAndGlyphs" fill="#444" stroke="#444" stroke-width="0.18">0</text>
<line x1="146.60" y1="292.78" x2="148.40" y2="292.78" stroke="#555" stroke-width="0.6"/>
<text x="144.7" y="295.23" font-size="7.0" text-anchor="end" textLength="6.62" lengthAdjust="spacingAndGlyphs" fill="#444" stroke="#444" stroke-width="0.18">0.5</text>
<line x1="146.60" y1="277.26" x2="148.40" y2="277.26" stroke="#555" stroke-width="0.6"/>
<text x="144.7" y="279.71" font-size="7.0" text-anchor="end" textLength="6.62" lengthAdjust="spacingAndGlyphs" fill="#444" stroke="#444" stroke-width="0.18">1.0</text>
<line x1="146.60" y1="261.74" x2="148.40" y2="261.74" stroke="#555" stroke-width="0.6"/>
<text x="144.7" y="264.19" font-size="7.0" text-anchor="end" textLength="6.62" lengthAdjust="spacingAndGlyphs" fill="#444" stroke="#444" stroke-width="0.18">1.5</text>
<line x1="146.60" y1="246.22" x2="148.40" y2="246.22" stroke="#555" stroke-width="0.6"/>
<text x="144.7" y="248.67000000000002" font-size="7.0" text-anchor="end" textLength="6.62" lengthAdjust="spacingAndGlyphs" fill="#444" stroke="#444" stroke-width="0.18">2.0</text>
<line x1="146.60" y1="230.70" x2="148.40" y2="230.70" stroke="#555" stroke-width="0.6"/>
<text x="144.7" y="233.15" font-size="7.0" text-anchor="end" textLength="6.62" lengthAdjust="spacingAndGlyphs" fill="#444" stroke="#444" stroke-width="0.18">2.5</text>
<text x="155.04999999999998" y="314.1" font-size="6.5" text-anchor="middle" textLength="3.0" lengthAdjust="spacingAndGlyphs" fill="#444" stroke="#444" stroke-width="0.18">1</text>
<text x="163.99999999999997" y="314.1" font-size="6.5" text-anchor="middle" textLength="3.0" lengthAdjust="spacingAndGlyphs" fill="#444" stroke="#444" stroke-width="0.18">3</text>
<text x="172.95" y="314.1" font-size="6.5" text-anchor="middle" textLength="3.0" lengthAdjust="spacingAndGlyphs" fill="#444" stroke="#444" stroke-width="0.18">5</text>
<text x="181.89999999999998" y="314.1" font-size="6.5" text-anchor="middle" textLength="3.0" lengthAdjust="spacingAndGlyphs" fill="#444" stroke="#444" stroke-width="0.18">7</text>
<text x="190.84999999999997" y="314.1" font-size="6.5" text-anchor="middle" textLength="3.0" lengthAdjust="spacingAndGlyphs" fill="#444" stroke="#444" stroke-width="0.18">8</text>
<text x="199.79999999999998" y="314.1" font-size="6.5" text-anchor="middle" textLength="3.0" lengthAdjust="spacingAndGlyphs" fill="#444" stroke="#444" stroke-width="0.18">9</text>
<text x="208.74999999999997" y="314.1" font-size="6.5" text-anchor="middle" textLength="6.0" lengthAdjust="spacingAndGlyphs" fill="#444" stroke="#444" stroke-width="0.18">10</text>
<text x="217.7" y="314.1" font-size="6.5" text-anchor="middle" textLength="6.0" lengthAdjust="spacingAndGlyphs" fill="#444" stroke="#444" stroke-width="0.18">12</text>
<text x="185.6" y="321.4" font-size="6.0" font-style="italic" text-anchor="middle" textLength="16.68" lengthAdjust="spacingAndGlyphs" fill="#444" stroke="#444" stroke-width="0.18">CCNE2</text>
<text x="127.8" y="268.5" font-size="6.4" text-anchor="middle" textLength="59.5" lengthAdjust="spacingAndGlyphs" transform="rotate(-90 127.8 268.5)" fill="#333">Relative expression level</text>
<text x="134.70000000000002" y="268.5" font-size="6.4" text-anchor="middle" textLength="29.0" lengthAdjust="spacingAndGlyphs" transform="rotate(-90 134.70000000000002 268.5)" fill="#333">(MeOH = 1)</text>
<text x="223.8" y="313.8" font-size="6.5" textLength="11.85" lengthAdjust="spacingAndGlyphs" fill="#444" stroke="#444" stroke-width="0.18">Exon</text>
<text x="163.99999999999997" y="273.80800000000005" font-size="6.0" text-anchor="middle" textLength="6.31" lengthAdjust="spacingAndGlyphs" fill="#333" stroke="#333" stroke-width="0.18">***</text>
<text x="172.95" y="293.6736" font-size="6.0" text-anchor="middle" textLength="6.31" lengthAdjust="spacingAndGlyphs" fill="#333" stroke="#333" stroke-width="0.18">***</text>
<text x="181.89999999999998" y="302.98560000000003" font-size="6.0" text-anchor="middle" textLength="6.31" lengthAdjust="spacingAndGlyphs" fill="#333" stroke="#333" stroke-width="0.18">***</text>
<text x="190.84999999999997" y="300.81280000000004" font-size="6.0" text-anchor="middle" textLength="6.31" lengthAdjust="spacingAndGlyphs" fill="#333" stroke="#333" stroke-width="0.18">***</text>
<text x="199.79999999999998" y="300.81280000000004" font-size="6.0" text-anchor="middle" textLength="6.31" lengthAdjust="spacingAndGlyphs" fill="#333" stroke="#333" stroke-width="0.18">***</text>
<text x="208.74999999999997" y="297.088" font-size="6.0" text-anchor="middle" textLength="6.31" lengthAdjust="spacingAndGlyphs" fill="#333" stroke="#333" stroke-width="0.18">***</text>
<text x="217.7" y="295.53600000000006" font-size="6.0" text-anchor="middle" textLength="6.31" lengthAdjust="spacingAndGlyphs" fill="#333" stroke="#333" stroke-width="0.18">***</text>
<rect x="265.00" y="233.10" width="6.20" height="75.50" fill="#179fe4"/>
<rect x="274.75" y="272.30" width="6.20" height="36.30" fill="#179fe4"/>
<rect x="284.50" y="283.43" width="6.20" height="25.17" fill="#179fe4"/>
<rect x="294.25" y="277.14" width="6.20" height="31.46" fill="#179fe4"/>
<rect x="304.00" y="290.69" width="6.20" height="17.91" fill="#179fe4"/>
<rect x="313.75" y="282.46" width="6.20" height="26.14" fill="#179fe4"/>
<rect x="323.50" y="256.33" width="6.20" height="52.27" fill="#179fe4"/>
<line x1="268.10" y1="232.61" x2="268.10" y2="233.10" stroke="#c4c4c4" stroke-width="1.1"/>
<line x1="266.30" y1="232.61" x2="269.90" y2="232.61" stroke="#555" stroke-width="0.65"/>
<line x1="268.10" y1="233.10" x2="268.10" y2="233.58" stroke="rgba(0,0,0,0.28)" stroke-width="0.6"/>
<line x1="266.30" y1="233.58" x2="269.90" y2="233.58" stroke="rgba(0,0,40,0.45)" stroke-width="0.6"/>
<line x1="277.85" y1="264.07" x2="277.85" y2="272.30" stroke="#c4c4c4" stroke-width="1.1"/>
<line x1="276.05" y1="264.07" x2="279.65" y2="264.07" stroke="#555" stroke-width="0.65"/>
<line x1="277.85" y1="272.30" x2="277.85" y2="280.53" stroke="rgba(0,0,0,0.28)" stroke-width="0.6"/>
<line x1="276.05" y1="280.53" x2="279.65" y2="280.53" stroke="rgba(0,0,40,0.45)" stroke-width="0.6"/>
<line x1="287.60" y1="282.46" x2="287.60" y2="283.43" stroke="#c4c4c4" stroke-width="1.1"/>
<line x1="285.80" y1="282.46" x2="289.40" y2="282.46" stroke="#555" stroke-width="0.65"/>
<line x1="287.60" y1="283.43" x2="287.60" y2="284.40" stroke="rgba(0,0,0,0.28)" stroke-width="0.6"/>
<line x1="285.80" y1="284.40" x2="289.40" y2="284.40" stroke="rgba(0,0,40,0.45)" stroke-width="0.6"/>
<line x1="297.35" y1="274.24" x2="297.35" y2="277.14" stroke="#c4c4c4" stroke-width="1.1"/>
<line x1="295.55" y1="274.24" x2="299.15" y2="274.24" stroke="#555" stroke-width="0.65"/>
<line x1="297.35" y1="277.14" x2="297.35" y2="280.04" stroke="rgba(0,0,0,0.28)" stroke-width="0.6"/>
<line x1="295.55" y1="280.04" x2="299.15" y2="280.04" stroke="rgba(0,0,40,0.45)" stroke-width="0.6"/>
<line x1="307.10" y1="289.72" x2="307.10" y2="290.69" stroke="#c4c4c4" stroke-width="1.1"/>
<line x1="305.30" y1="289.72" x2="308.90" y2="289.72" stroke="#555" stroke-width="0.65"/>
<line x1="307.10" y1="290.69" x2="307.10" y2="291.66" stroke="rgba(0,0,0,0.28)" stroke-width="0.6"/>
<line x1="305.30" y1="291.66" x2="308.90" y2="291.66" stroke="rgba(0,0,40,0.45)" stroke-width="0.6"/>
<line x1="316.85" y1="278.11" x2="316.85" y2="282.46" stroke="#c4c4c4" stroke-width="1.1"/>
<line x1="315.05" y1="278.11" x2="318.65" y2="278.11" stroke="#555" stroke-width="0.65"/>
<line x1="316.85" y1="282.46" x2="316.85" y2="286.82" stroke="rgba(0,0,0,0.28)" stroke-width="0.6"/>
<line x1="315.05" y1="286.82" x2="318.65" y2="286.82" stroke="rgba(0,0,40,0.45)" stroke-width="0.6"/>
<line x1="326.60" y1="242.78" x2="326.60" y2="256.33" stroke="#c4c4c4" stroke-width="1.1"/>
<line x1="324.80" y1="242.78" x2="328.40" y2="242.78" stroke="#555" stroke-width="0.65"/>
<line x1="326.60" y1="256.33" x2="326.60" y2="269.88" stroke="rgba(0,0,0,0.28)" stroke-width="0.6"/>
<line x1="324.80" y1="269.88" x2="328.40" y2="269.88" stroke="rgba(0,0,40,0.45)" stroke-width="0.6"/>
<line x1="258.80" y1="231.16" x2="258.80" y2="308.95" stroke="#555" stroke-width="0.7"/>
<line x1="258.80" y1="308.60" x2="334.80" y2="308.60" stroke="#555" stroke-width="0.7"/>
<line x1="258.80" y1="308.60" x2="260.60" y2="308.60" stroke="#555" stroke-width="0.6"/>
<text x="256.90000000000003" y="311.05" font-size="7.0" text-anchor="end" textLength="2.65" lengthAdjust="spacingAndGlyphs" fill="#444" stroke="#444" stroke-width="0.18">0</text>
<line x1="258.80" y1="298.92" x2="260.60" y2="298.92" stroke="#555" stroke-width="0.6"/>
<text x="256.90000000000003" y="301.37" font-size="7.0" text-anchor="end" textLength="6.62" lengthAdjust="spacingAndGlyphs" fill="#444" stroke="#444" stroke-width="0.18">0.2</text>
<line x1="258.80" y1="289.24" x2="260.60" y2="289.24" stroke="#555" stroke-width="0.6"/>
<text x="256.90000000000003" y="291.69" font-size="7.0" text-anchor="end" textLength="6.62" lengthAdjust="spacingAndGlyphs" fill="#444" stroke="#444" stroke-width="0.18">0.4</text>
<line x1="258.80" y1="279.56" x2="260.60" y2="279.56" stroke="#555" stroke-width="0.6"/>
<text x="256.90000000000003" y="282.01" font-size="7.0" text-anchor="end" textLength="6.62" lengthAdjust="spacingAndGlyphs" fill="#444" stroke="#444" stroke-width="0.18">0.6</text>
<line x1="258.80" y1="269.88" x2="260.60" y2="269.88" stroke="#555" stroke-width="0.6"/>
<text x="256.90000000000003" y="272.33" font-size="7.0" text-anchor="end" textLength="6.62" lengthAdjust="spacingAndGlyphs" fill="#444" stroke="#444" stroke-width="0.18">0.8</text>
<line x1="258.80" y1="260.20" x2="260.60" y2="260.20" stroke="#555" stroke-width="0.6"/>
<text x="256.90000000000003" y="262.65000000000003" font-size="7.0" text-anchor="end" textLength="6.62" lengthAdjust="spacingAndGlyphs" fill="#444" stroke="#444" stroke-width="0.18">1.0</text>
<line x1="258.80" y1="250.52" x2="260.60" y2="250.52" stroke="#555" stroke-width="0.6"/>
<text x="256.90000000000003" y="252.97000000000003" font-size="7.0" text-anchor="end" textLength="6.62" lengthAdjust="spacingAndGlyphs" fill="#444" stroke="#444" stroke-width="0.18">1.2</text>
<line x1="258.80" y1="240.84" x2="260.60" y2="240.84" stroke="#555" stroke-width="0.6"/>
<text x="256.90000000000003" y="243.29000000000002" font-size="7.0" text-anchor="end" textLength="6.62" lengthAdjust="spacingAndGlyphs" fill="#444" stroke="#444" stroke-width="0.18">1.4</text>
<line x1="258.80" y1="231.16" x2="260.60" y2="231.16" stroke="#555" stroke-width="0.6"/>
<text x="256.90000000000003" y="233.61" font-size="7.0" text-anchor="end" textLength="6.62" lengthAdjust="spacingAndGlyphs" fill="#444" stroke="#444" stroke-width="0.18">1.6</text>
<text x="268.1" y="314.1" font-size="6.5" text-anchor="middle" textLength="3.0" lengthAdjust="spacingAndGlyphs" fill="#444" stroke="#444" stroke-width="0.18">1</text>
<text x="277.85" y="314.1" font-size="6.5" text-anchor="middle" textLength="3.0" lengthAdjust="spacingAndGlyphs" fill="#444" stroke="#444" stroke-width="0.18">2</text>
<text x="287.6" y="314.1" font-size="6.5" text-anchor="middle" textLength="3.0" lengthAdjust="spacingAndGlyphs" fill="#444" stroke="#444" stroke-width="0.18">3</text>
<text x="297.35" y="314.1" font-size="6.5" text-anchor="middle" textLength="3.0" lengthAdjust="spacingAndGlyphs" fill="#444" stroke="#444" stroke-width="0.18">4</text>
<text x="307.1" y="314.1" font-size="6.5" text-anchor="middle" textLength="3.0" lengthAdjust="spacingAndGlyphs" fill="#444" stroke="#444" stroke-width="0.18">5</text>
<text x="316.85" y="314.1" font-size="6.5" text-anchor="middle" textLength="3.0" lengthAdjust="spacingAndGlyphs" fill="#444" stroke="#444" stroke-width="0.18">6</text>
<text x="326.6" y="314.1" font-size="6.5" text-anchor="middle" textLength="3.0" lengthAdjust="spacingAndGlyphs" fill="#444" stroke="#444" stroke-width="0.18">7</text>
<text x="297.1" y="321.4" font-size="6.0" font-style="italic" text-anchor="middle" textLength="11.76" lengthAdjust="spacingAndGlyphs" fill="#444" stroke="#444" stroke-width="0.18">E2F1</text>
<text x="240.2" y="268.8" font-size="6.4" text-anchor="middle" textLength="59.5" lengthAdjust="spacingAndGlyphs" transform="rotate(-90 240.2 268.8)" fill="#333">Relative expression level</text>
<text x="247.20000000000002" y="268.8" font-size="6.4" text-anchor="middle" textLength="29.0" lengthAdjust="spacingAndGlyphs" transform="rotate(-90 247.20000000000002 268.8)" fill="#333">(MeOH = 1)</text>
<text x="336.2" y="313.8" font-size="6.5" textLength="11.85" lengthAdjust="spacingAndGlyphs" fill="#444" stroke="#444" stroke-width="0.18">Exon</text>
<text x="277.85" y="262.172" font-size="6.0" text-anchor="middle" textLength="6.31" lengthAdjust="spacingAndGlyphs" fill="#333" stroke="#333" stroke-width="0.18">***</text>
<text x="287.6" y="280.564" font-size="6.0" text-anchor="middle" textLength="6.31" lengthAdjust="spacingAndGlyphs" fill="#333" stroke="#333" stroke-width="0.18">***</text>
<text x="297.35" y="272.33600000000007" font-size="6.0" text-anchor="middle" textLength="6.31" lengthAdjust="spacingAndGlyphs" fill="#333" stroke="#333" stroke-width="0.18">***</text>
<text x="307.1" y="287.82400000000007" font-size="6.0" text-anchor="middle" textLength="6.31" lengthAdjust="spacingAndGlyphs" fill="#333" stroke="#333" stroke-width="0.18">***</text>
<text x="316.85" y="276.208" font-size="6.0" text-anchor="middle" textLength="6.31" lengthAdjust="spacingAndGlyphs" fill="#333" stroke="#333" stroke-width="0.18">***</text>
<text x="326.6" y="240.876" font-size="6.0" text-anchor="middle" textLength="4.2" lengthAdjust="spacingAndGlyphs" fill="#333" stroke="#333" stroke-width="0.18">**</text>
<rect x="343.10" y="262.10" width="4.00" height="4.00" fill="#179fe4"/>
<text x="348.7" y="266.2" font-size="6.8" textLength="10.89" lengthAdjust="spacingAndGlyphs" fill="#3a3a3a" stroke="#3a3a3a" stroke-width="0.18">SSA</text>
<rect x="34.40" y="370.60" width="3.60" height="48.70" fill="#179fe4"/>
<rect x="38.00" y="392.27" width="3.60" height="27.03" fill="#e41f27"/>
<rect x="41.60" y="369.14" width="3.60" height="50.16" fill="#fff200"/>
<rect x="45.20" y="383.99" width="3.60" height="35.31" fill="#119a49"/>
<rect x="53.90" y="370.60" width="3.60" height="48.70" fill="#179fe4"/>
<rect x="57.50" y="409.07" width="3.60" height="10.23" fill="#e41f27"/>
<rect x="61.10" y="372.55" width="3.60" height="46.75" fill="#fff200"/>
<rect x="64.70" y="410.53" width="3.60" height="8.77" fill="#119a49"/>
<rect x="73.10" y="370.60" width="3.60" height="48.70" fill="#179fe4"/>
<rect x="76.70" y="416.38" width="3.60" height="2.92" fill="#e41f27"/>
<rect x="80.30" y="369.14" width="3.60" height="50.16" fill="#fff200"/>
<rect x="83.90" y="415.89" width="3.60" height="3.41" fill="#119a49"/>
<rect x="92.50" y="370.60" width="3.60" height="48.70" fill="#179fe4"/>
<rect x="96.10" y="410.53" width="3.60" height="8.77" fill="#e41f27"/>
<rect x="99.70" y="371.57" width="3.60" height="47.73" fill="#fff200"/>
<rect x="103.30" y="409.07" width="3.60" height="10.23" fill="#119a49"/>
<line x1="39.80" y1="384.24" x2="39.80" y2="392.27" stroke="#c4c4c4" stroke-width="0.9"/>
<line x1="38.60" y1="384.24" x2="41.00" y2="384.24" stroke="#888" stroke-width="0.65"/>
<rect x="38.50" y="392.27" width="2.60" height="7.06" fill="rgba(60,40,0,0.12)"/>
<line x1="39.80" y1="392.27" x2="39.80" y2="399.33" stroke="rgba(0,0,0,0.28)" stroke-width="0.6"/>
<line x1="38.60" y1="399.33" x2="41.00" y2="399.33" stroke="rgba(0,0,0,0.4)" stroke-width="0.6"/>
<line x1="43.40" y1="365.73" x2="43.40" y2="369.14" stroke="#c4c4c4" stroke-width="0.9"/>
<line x1="42.20" y1="365.73" x2="44.60" y2="365.73" stroke="#888" stroke-width="0.65"/>
<rect x="42.10" y="369.14" width="2.60" height="4.87" fill="rgba(60,40,0,0.12)"/>
<line x1="43.40" y1="369.14" x2="43.40" y2="374.01" stroke="rgba(0,0,0,0.28)" stroke-width="0.6"/>
<line x1="42.20" y1="374.01" x2="44.60" y2="374.01" stroke="rgba(0,0,0,0.4)" stroke-width="0.6"/>
<line x1="47.00" y1="371.09" x2="47.00" y2="383.99" stroke="#c4c4c4" stroke-width="0.9"/>
<line x1="45.80" y1="371.09" x2="48.20" y2="371.09" stroke="#888" stroke-width="0.65"/>
<rect x="45.70" y="383.99" width="2.60" height="13.88" fill="rgba(60,40,0,0.12)"/>
<line x1="47.00" y1="383.99" x2="47.00" y2="397.87" stroke="rgba(0,0,0,0.28)" stroke-width="0.6"/>
<line x1="45.80" y1="397.87" x2="48.20" y2="397.87" stroke="rgba(0,0,0,0.4)" stroke-width="0.6"/>
<line x1="59.30" y1="406.15" x2="59.30" y2="409.07" stroke="#c4c4c4" stroke-width="0.9"/>
<line x1="58.10" y1="406.15" x2="60.50" y2="406.15" stroke="#888" stroke-width="0.65"/>
<rect x="58.00" y="409.07" width="2.60" height="2.92" fill="rgba(60,40,0,0.12)"/>
<line x1="59.30" y1="409.07" x2="59.30" y2="412.00" stroke="rgba(0,0,0,0.28)" stroke-width="0.6"/>
<line x1="58.10" y1="412.00" x2="60.50" y2="412.00" stroke="rgba(0,0,0,0.4)" stroke-width="0.6"/>
<line x1="62.90" y1="361.83" x2="62.90" y2="372.55" stroke="#c4c4c4" stroke-width="0.9"/>
<line x1="61.70" y1="361.83" x2="64.10" y2="361.83" stroke="#888" stroke-width="0.65"/>
<rect x="61.60" y="372.55" width="2.60" height="10.23" fill="rgba(60,40,0,0.12)"/>
<line x1="62.90" y1="372.55" x2="62.90" y2="382.77" stroke="rgba(0,0,0,0.28)" stroke-width="0.6"/>
<line x1="61.70" y1="382.77" x2="64.10" y2="382.77" stroke="rgba(0,0,0,0.4)" stroke-width="0.6"/>
<line x1="66.50" y1="408.59" x2="66.50" y2="410.53" stroke="#c4c4c4" stroke-width="0.9"/>
<line x1="65.30" y1="408.59" x2="67.70" y2="408.59" stroke="#888" stroke-width="0.65"/>
<rect x="65.20" y="410.53" width="2.60" height="1.95" fill="rgba(60,40,0,0.12)"/>
<line x1="66.50" y1="410.53" x2="66.50" y2="412.48" stroke="rgba(0,0,0,0.28)" stroke-width="0.6"/>
<line x1="65.30" y1="412.48" x2="67.70" y2="412.48" stroke="rgba(0,0,0,0.4)" stroke-width="0.6"/>
<line x1="78.50" y1="415.89" x2="78.50" y2="416.38" stroke="#c4c4c4" stroke-width="0.9"/>
<line x1="77.30" y1="415.89" x2="79.70" y2="415.89" stroke="#888" stroke-width="0.65"/>
<rect x="77.20" y="416.38" width="2.60" height="0.49" fill="rgba(60,40,0,0.12)"/>
<line x1="78.50" y1="416.38" x2="78.50" y2="416.87" stroke="rgba(0,0,0,0.28)" stroke-width="0.6"/>
<line x1="77.30" y1="416.87" x2="79.70" y2="416.87" stroke="rgba(0,0,0,0.4)" stroke-width="0.6"/>
<line x1="82.10" y1="349.66" x2="82.10" y2="369.14" stroke="#c4c4c4" stroke-width="0.9"/>
<line x1="80.90" y1="349.66" x2="83.30" y2="349.66" stroke="#888" stroke-width="0.65"/>
<rect x="80.80" y="369.14" width="2.60" height="18.02" fill="rgba(60,40,0,0.12)"/>
<line x1="82.10" y1="369.14" x2="82.10" y2="387.16" stroke="rgba(0,0,0,0.28)" stroke-width="0.6"/>
<line x1="80.90" y1="387.16" x2="83.30" y2="387.16" stroke="rgba(0,0,0,0.4)" stroke-width="0.6"/>
<line x1="85.70" y1="414.43" x2="85.70" y2="415.89" stroke="#c4c4c4" stroke-width="0.9"/>
<line x1="84.50" y1="414.43" x2="86.90" y2="414.43" stroke="#888" stroke-width="0.65"/>
<rect x="84.40" y="415.89" width="2.60" height="1.46" fill="rgba(60,40,0,0.12)"/>
<line x1="85.70" y1="415.89" x2="85.70" y2="417.35" stroke="rgba(0,0,0,0.28)" stroke-width="0.6"/>
<line x1="84.50" y1="417.35" x2="86.90" y2="417.35" stroke="rgba(0,0,0,0.4)" stroke-width="0.6"/>
<line x1="97.90" y1="408.59" x2="97.90" y2="410.53" stroke="#c4c4c4" stroke-width="0.9"/>
<line x1="96.70" y1="408.59" x2="99.10" y2="408.59" stroke="#888" stroke-width="0.65"/>
<rect x="96.60" y="410.53" width="2.60" height="1.95" fill="rgba(60,40,0,0.12)"/>
<line x1="97.90" y1="410.53" x2="97.90" y2="412.48" stroke="rgba(0,0,0,0.28)" stroke-width="0.6"/>
<line x1="96.70" y1="412.48" x2="99.10" y2="412.48" stroke="rgba(0,0,0,0.4)" stroke-width="0.6"/>
<line x1="101.50" y1="359.89" x2="101.50" y2="371.57" stroke="#c4c4c4" stroke-width="0.9"/>
<line x1="100.30" y1="359.89" x2="102.70" y2="359.89" stroke="#888" stroke-width="0.65"/>
<rect x="100.20" y="371.57" width="2.60" height="10.71" fill="rgba(60,40,0,0.12)"/>
<line x1="101.50" y1="371.57" x2="101.50" y2="382.29" stroke="rgba(0,0,0,0.28)" stroke-width="0.6"/>
<line x1="100.30" y1="382.29" x2="102.70" y2="382.29" stroke="rgba(0,0,0,0.4)" stroke-width="0.6"/>
<line x1="105.10" y1="402.74" x2="105.10" y2="409.07" stroke="#c4c4c4" stroke-width="0.9"/>
<line x1="103.90" y1="402.74" x2="106.30" y2="402.74" stroke="#888" stroke-width="0.65"/>
<rect x="103.80" y="409.07" width="2.60" height="6.33" fill="rgba(60,40,0,0.12)"/>
<line x1="105.10" y1="409.07" x2="105.10" y2="415.40" stroke="rgba(0,0,0,0.28)" stroke-width="0.6"/>
<line x1="103.90" y1="415.40" x2="106.30" y2="415.40" stroke="rgba(0,0,0,0.4)" stroke-width="0.6"/>
<line x1="30.60" y1="341.38" x2="30.60" y2="419.65" stroke="#555" stroke-width="0.7"/>
<line x1="30.60" y1="419.30" x2="110.50" y2="419.30" stroke="#555" stroke-width="0.7"/>
<line x1="30.60" y1="419.30" x2="32.40" y2="419.30" stroke="#555" stroke-width="0.6"/>
<text x="28.700000000000003" y="421.75" font-size="7.0" text-anchor="end" textLength="2.65" lengthAdjust="spacingAndGlyphs" fill="#444" stroke="#444" stroke-width="0.18">0</text>
<line x1="30.60" y1="409.56" x2="32.40" y2="409.56" stroke="#555" stroke-width="0.6"/>
<text x="28.700000000000003" y="412.01" font-size="7.0" text-anchor="end" textLength="6.62" lengthAdjust="spacingAndGlyphs" fill="#444" stroke="#444" stroke-width="0.18">0.2</text>
<line x1="30.60" y1="399.82" x2="32.40" y2="399.82" stroke="#555" stroke-width="0.6"/>
<text x="28.700000000000003" y="402.27" font-size="7.0" text-anchor="end" textLength="6.62" lengthAdjust="spacingAndGlyphs" fill="#444" stroke="#444" stroke-width="0.18">0.4</text>
<line x1="30.60" y1="390.08" x2="32.40" y2="390.08" stroke="#555" stroke-width="0.6"/>
<text x="28.700000000000003" y="392.53000000000003" font-size="7.0" text-anchor="end" textLength="6.62" lengthAdjust="spacingAndGlyphs" fill="#444" stroke="#444" stroke-width="0.18">0.6</text>
<line x1="30.60" y1="380.34" x2="32.40" y2="380.34" stroke="#555" stroke-width="0.6"/>
<text x="28.700000000000003" y="382.79" font-size="7.0" text-anchor="end" textLength="6.62" lengthAdjust="spacingAndGlyphs" fill="#444" stroke="#444" stroke-width="0.18">0.8</text>
<line x1="30.60" y1="370.60" x2="32.40" y2="370.60" stroke="#555" stroke-width="0.6"/>
<text x="28.700000000000003" y="373.05" font-size="7.0" text-anchor="end" textLength="6.62" lengthAdjust="spacingAndGlyphs" fill="#444" stroke="#444" stroke-width="0.18">1.0</text>
<line x1="30.60" y1="360.86" x2="32.40" y2="360.86" stroke="#555" stroke-width="0.6"/>
<text x="28.700000000000003" y="363.31" font-size="7.0" text-anchor="end" textLength="6.62" lengthAdjust="spacingAndGlyphs" fill="#444" stroke="#444" stroke-width="0.18">1.2</text>
<line x1="30.60" y1="351.12" x2="32.40" y2="351.12" stroke="#555" stroke-width="0.6"/>
<text x="28.700000000000003" y="353.57" font-size="7.0" text-anchor="end" textLength="6.62" lengthAdjust="spacingAndGlyphs" fill="#444" stroke="#444" stroke-width="0.18">1.4</text>
<line x1="30.60" y1="341.38" x2="32.40" y2="341.38" stroke="#555" stroke-width="0.6"/>
<text x="28.700000000000003" y="343.83" font-size="7.0" text-anchor="end" textLength="6.62" lengthAdjust="spacingAndGlyphs" fill="#444" stroke="#444" stroke-width="0.18">1.6</text>
<text x="41.6" y="426.0" font-size="6.5" text-anchor="middle" textLength="10.8" lengthAdjust="spacingAndGlyphs" fill="#444" stroke="#444" stroke-width="0.18">Ex 3</text>
<text x="61.1" y="426.0" font-size="6.5" text-anchor="middle" textLength="10.8" lengthAdjust="spacingAndGlyphs" fill="#444" stroke="#444" stroke-width="0.18">Ex 6</text>
<text x="80.3" y="426.0" font-size="6.5" text-anchor="middle" textLength="15.59" lengthAdjust="spacingAndGlyphs" fill="#444" stroke="#444" stroke-width="0.18">Ex 6-7</text>
<text x="99.7" y="426.0" font-size="6.5" text-anchor="middle" textLength="10.8" lengthAdjust="spacingAndGlyphs" fill="#444" stroke="#444" stroke-width="0.18">Ex 7</text>
<text x="70.1" y="433.7" font-size="6.0" font-style="italic" text-anchor="middle" textLength="16.68" lengthAdjust="spacingAndGlyphs" fill="#444" stroke="#444" stroke-width="0.18">CCNE1</text>
<text x="12.2" y="376.8" font-size="6.4" text-anchor="middle" textLength="59.5" lengthAdjust="spacingAndGlyphs" transform="rotate(-90 12.2 376.8)" fill="#333">Relative expression level</text>
<text x="19.2" y="376.8" font-size="6.4" text-anchor="middle" textLength="29.0" lengthAdjust="spacingAndGlyphs" transform="rotate(-90 19.2 376.8)" fill="#333">(MeOH = 1)</text>
<path d="M36.20,362.60 Q36.20,361.00 37.20,361.00 L38.80,361.00 Q39.80,361.00 39.80,362.60" fill="none" stroke="#777" stroke-width="0.55"/>
<text x="38.0" y="360.6" font-size="5.4" text-anchor="middle" textLength="1.89" lengthAdjust="spacingAndGlyphs" fill="#444" stroke="#444" stroke-width="0.18">*</text>
<path d="M39.80,362.60 Q39.80,361.00 40.80,361.00 L42.40,361.00 Q43.40,361.00 43.40,362.60" fill="none" stroke="#777" stroke-width="0.55"/>
<text x="41.599999999999994" y="360.6" font-size="5.4" text-anchor="middle" textLength="1.89" lengthAdjust="spacingAndGlyphs" fill="#444" stroke="#444" stroke-width="0.18">*</text>
<path d="M55.10,355.90 L55.10,353.60 L67.10,353.60 L67.10,355.90" fill="none" stroke="#888" stroke-width="0.5"/>
<text x="61.099999999999994" y="354.5" font-size="4.6" text-anchor="middle" textLength="4.83" lengthAdjust="spacingAndGlyphs" fill="#555" stroke="#555" stroke-width="0.18">***</text>
<line x1="54.10" y1="357.10" x2="68.10" y2="357.10" stroke="#555" stroke-width="1.4"/>
<line x1="55.70" y1="358.20" x2="55.70" y2="360.40" stroke="#777" stroke-width="0.7"/>
<line x1="59.30" y1="358.20" x2="59.30" y2="360.40" stroke="#777" stroke-width="0.7"/>
<line x1="62.90" y1="358.20" x2="62.90" y2="360.40" stroke="#777" stroke-width="0.7"/>
<line x1="66.50" y1="358.20" x2="66.50" y2="360.40" stroke="#777" stroke-width="0.7"/>
<path d="M74.30,345.70 L74.30,343.40 L86.30,343.40 L86.30,345.70" fill="none" stroke="#888" stroke-width="0.5"/>
<text x="80.29999999999998" y="344.29999999999995" font-size="4.6" text-anchor="middle" textLength="3.22" lengthAdjust="spacingAndGlyphs" fill="#555" stroke="#555" stroke-width="0.18">**</text>
<line x1="73.30" y1="346.90" x2="87.30" y2="346.90" stroke="#555" stroke-width="1.4"/>
<line x1="74.90" y1="348.00" x2="74.90" y2="350.20" stroke="#777" stroke-width="0.7"/>
<line x1="78.50" y1="348.00" x2="78.50" y2="350.20" stroke="#777" stroke-width="0.7"/>
<line x1="82.10" y1="348.00" x2="82.10" y2="350.20" stroke="#777" stroke-width="0.7"/>
<line x1="85.70" y1="348.00" x2="85.70" y2="350.20" stroke="#777" stroke-width="0.7"/>
<path d="M93.70,354.70 L93.70,352.40 L105.70,352.40 L105.70,354.70" fill="none" stroke="#888" stroke-width="0.5"/>
<text x="99.69999999999999" y="353.29999999999995" font-size="4.6" text-anchor="middle" textLength="4.83" lengthAdjust="spacingAndGlyphs" fill="#555" stroke="#555" stroke-width="0.18">***</text>
<line x1="92.70" y1="355.90" x2="106.70" y2="355.90" stroke="#555" stroke-width="1.4"/>
<line x1="94.30" y1="357.00" x2="94.30" y2="359.20" stroke="#777" stroke-width="0.7"/>
<line x1="97.90" y1="357.00" x2="97.90" y2="359.20" stroke="#777" stroke-width="0.7"/>
<line x1="101.50" y1="357.00" x2="101.50" y2="359.20" stroke="#777" stroke-width="0.7"/>
<line x1="105.10" y1="357.00" x2="105.10" y2="359.20" stroke="#777" stroke-width="0.7"/>
<rect x="143.80" y="363.80" width="3.60" height="55.50" fill="#179fe4"/>
<rect x="147.40" y="408.20" width="3.60" height="11.10" fill="#e41f27"/>
<rect x="151.00" y="368.80" width="3.60" height="50.51" fill="#fff200"/>
<rect x="154.60" y="409.87" width="3.60" height="9.44" fill="#119a49"/>
<rect x="162.80" y="363.80" width="3.60" height="55.50" fill="#179fe4"/>
<rect x="166.40" y="404.87" width="3.60" height="14.43" fill="#e41f27"/>
<rect x="170.00" y="367.13" width="3.60" height="52.17" fill="#fff200"/>
<rect x="173.60" y="408.20" width="3.60" height="11.10" fill="#119a49"/>
<rect x="181.80" y="363.80" width="3.60" height="55.50" fill="#179fe4"/>
<rect x="185.40" y="417.08" width="3.60" height="2.22" fill="#e41f27"/>
<rect x="189.00" y="374.62" width="3.60" height="44.68" fill="#fff200"/>
<rect x="192.60" y="415.42" width="3.60" height="3.89" fill="#119a49"/>
<rect x="200.80" y="363.80" width="3.60" height="55.50" fill="#179fe4"/>
<rect x="204.40" y="407.09" width="3.60" height="12.21" fill="#e41f27"/>
<rect x="208.00" y="368.52" width="3.60" height="50.78" fill="#fff200"/>
<rect x="211.60" y="410.98" width="3.60" height="8.32" fill="#119a49"/>
<line x1="149.20" y1="404.87" x2="149.20" y2="408.20" stroke="#c4c4c4" stroke-width="0.9"/>
<line x1="148.00" y1="404.87" x2="150.40" y2="404.87" stroke="#888" stroke-width="0.65"/>
<rect x="147.90" y="408.20" width="2.60" height="3.33" fill="rgba(60,40,0,0.12)"/>
<line x1="149.20" y1="408.20" x2="149.20" y2="411.53" stroke="rgba(0,0,0,0.28)" stroke-width="0.6"/>
<line x1="148.00" y1="411.53" x2="150.40" y2="411.53" stroke="rgba(0,0,0,0.4)" stroke-width="0.6"/>
<line x1="152.80" y1="357.14" x2="152.80" y2="368.80" stroke="#c4c4c4" stroke-width="0.9"/>
<line x1="151.60" y1="357.14" x2="154.00" y2="357.14" stroke="#888" stroke-width="0.65"/>
<rect x="151.50" y="368.80" width="2.60" height="11.93" fill="rgba(60,40,0,0.12)"/>
<line x1="152.80" y1="368.80" x2="152.80" y2="380.73" stroke="rgba(0,0,0,0.28)" stroke-width="0.6"/>
<line x1="151.60" y1="380.73" x2="154.00" y2="380.73" stroke="rgba(0,0,0,0.4)" stroke-width="0.6"/>
<line x1="156.40" y1="404.87" x2="156.40" y2="409.87" stroke="#c4c4c4" stroke-width="0.9"/>
<line x1="155.20" y1="404.87" x2="157.60" y2="404.87" stroke="#888" stroke-width="0.65"/>
<rect x="155.10" y="409.87" width="2.60" height="5.00" fill="rgba(60,40,0,0.12)"/>
<line x1="156.40" y1="409.87" x2="156.40" y2="414.86" stroke="rgba(0,0,0,0.28)" stroke-width="0.6"/>
<line x1="155.20" y1="414.86" x2="157.60" y2="414.86" stroke="rgba(0,0,0,0.4)" stroke-width="0.6"/>
<line x1="168.20" y1="399.32" x2="168.20" y2="404.87" stroke="#c4c4c4" stroke-width="0.9"/>
<line x1="167.00" y1="399.32" x2="169.40" y2="399.32" stroke="#888" stroke-width="0.65"/>
<rect x="166.90" y="404.87" width="2.60" height="5.55" fill="rgba(60,40,0,0.12)"/>
<line x1="168.20" y1="404.87" x2="168.20" y2="410.42" stroke="rgba(0,0,0,0.28)" stroke-width="0.6"/>
<line x1="167.00" y1="410.42" x2="169.40" y2="410.42" stroke="rgba(0,0,0,0.4)" stroke-width="0.6"/>
<line x1="171.80" y1="355.48" x2="171.80" y2="367.13" stroke="#c4c4c4" stroke-width="0.9"/>
<line x1="170.60" y1="355.48" x2="173.00" y2="355.48" stroke="#888" stroke-width="0.65"/>
<rect x="170.50" y="367.13" width="2.60" height="10.55" fill="rgba(60,40,0,0.12)"/>
<line x1="171.80" y1="367.13" x2="171.80" y2="377.68" stroke="rgba(0,0,0,0.28)" stroke-width="0.6"/>
<line x1="170.60" y1="377.68" x2="173.00" y2="377.68" stroke="rgba(0,0,0,0.4)" stroke-width="0.6"/>
<line x1="175.40" y1="402.65" x2="175.40" y2="408.20" stroke="#c4c4c4" stroke-width="0.9"/>
<line x1="174.20" y1="402.65" x2="176.60" y2="402.65" stroke="#888" stroke-width="0.65"/>
<rect x="174.10" y="408.20" width="2.60" height="5.55" fill="rgba(60,40,0,0.12)"/>
<line x1="175.40" y1="408.20" x2="175.40" y2="413.75" stroke="rgba(0,0,0,0.28)" stroke-width="0.6"/>
<line x1="174.20" y1="413.75" x2="176.60" y2="413.75" stroke="rgba(0,0,0,0.4)" stroke-width="0.6"/>
<line x1="187.20" y1="416.53" x2="187.20" y2="417.08" stroke="#c4c4c4" stroke-width="0.9"/>
<line x1="186.00" y1="416.53" x2="188.40" y2="416.53" stroke="#888" stroke-width="0.65"/>
<rect x="185.90" y="417.08" width="2.60" height="0.56" fill="rgba(60,40,0,0.12)"/>
<line x1="187.20" y1="417.08" x2="187.20" y2="417.63" stroke="rgba(0,0,0,0.28)" stroke-width="0.6"/>
<line x1="186.00" y1="417.63" x2="188.40" y2="417.63" stroke="rgba(0,0,0,0.4)" stroke-width="0.6"/>
<line x1="190.80" y1="364.91" x2="190.80" y2="374.62" stroke="#c4c4c4" stroke-width="0.9"/>
<line x1="189.60" y1="364.91" x2="192.00" y2="364.91" stroke="#888" stroke-width="0.65"/>
<rect x="189.50" y="374.62" width="2.60" height="8.60" fill="rgba(60,40,0,0.12)"/>
<line x1="190.80" y1="374.62" x2="190.80" y2="383.23" stroke="rgba(0,0,0,0.28)" stroke-width="0.6"/>
<line x1="189.60" y1="383.23" x2="192.00" y2="383.23" stroke="rgba(0,0,0,0.4)" stroke-width="0.6"/>
<line x1="194.40" y1="412.64" x2="194.40" y2="415.42" stroke="#c4c4c4" stroke-width="0.9"/>
<line x1="193.20" y1="412.64" x2="195.60" y2="412.64" stroke="#888" stroke-width="0.65"/>
<rect x="193.10" y="415.42" width="2.60" height="2.77" fill="rgba(60,40,0,0.12)"/>
<line x1="194.40" y1="415.42" x2="194.40" y2="418.19" stroke="rgba(0,0,0,0.28)" stroke-width="0.6"/>
<line x1="193.20" y1="418.19" x2="195.60" y2="418.19" stroke="rgba(0,0,0,0.4)" stroke-width="0.6"/>
<line x1="206.20" y1="402.65" x2="206.20" y2="407.09" stroke="#c4c4c4" stroke-width="0.9"/>
<line x1="205.00" y1="402.65" x2="207.40" y2="402.65" stroke="#888" stroke-width="0.65"/>
<rect x="204.90" y="407.09" width="2.60" height="4.44" fill="rgba(60,40,0,0.12)"/>
<line x1="206.20" y1="407.09" x2="206.20" y2="411.53" stroke="rgba(0,0,0,0.28)" stroke-width="0.6"/>
<line x1="205.00" y1="411.53" x2="207.40" y2="411.53" stroke="rgba(0,0,0,0.4)" stroke-width="0.6"/>
<line x1="209.80" y1="358.25" x2="209.80" y2="368.52" stroke="#c4c4c4" stroke-width="0.9"/>
<line x1="208.60" y1="358.25" x2="211.00" y2="358.25" stroke="#888" stroke-width="0.65"/>
<rect x="208.50" y="368.52" width="2.60" height="11.38" fill="rgba(60,40,0,0.12)"/>
<line x1="209.80" y1="368.52" x2="209.80" y2="379.89" stroke="rgba(0,0,0,0.28)" stroke-width="0.6"/>
<line x1="208.60" y1="379.89" x2="211.00" y2="379.89" stroke="rgba(0,0,0,0.4)" stroke-width="0.6"/>
<line x1="213.40" y1="407.09" x2="213.40" y2="410.98" stroke="#c4c4c4" stroke-width="0.9"/>
<line x1="212.20" y1="407.09" x2="214.60" y2="407.09" stroke="#888" stroke-width="0.65"/>
<rect x="212.10" y="410.98" width="2.60" height="3.88" fill="rgba(60,40,0,0.12)"/>
<line x1="213.40" y1="410.98" x2="213.40" y2="414.86" stroke="rgba(0,0,0,0.28)" stroke-width="0.6"/>
<line x1="212.20" y1="414.86" x2="214.60" y2="414.86" stroke="rgba(0,0,0,0.4)" stroke-width="0.6"/>
<line x1="140.50" y1="341.60" x2="140.50" y2="419.65" stroke="#555" stroke-width="0.7"/>
<line x1="140.50" y1="419.30" x2="220.00" y2="419.30" stroke="#555" stroke-width="0.7"/>
<line x1="140.50" y1="419.30" x2="142.30" y2="419.30" stroke="#555" stroke-width="0.6"/>
<text x="138.6" y="421.75" font-size="7.0" text-anchor="end" textLength="2.65" lengthAdjust="spacingAndGlyphs" fill="#444" stroke="#444" stroke-width="0.18">0</text>
<line x1="140.50" y1="408.20" x2="142.30" y2="408.20" stroke="#555" stroke-width="0.6"/>
<text x="138.6" y="410.65" font-size="7.0" text-anchor="end" textLength="6.62" lengthAdjust="spacingAndGlyphs" fill="#444" stroke="#444" stroke-width="0.18">0.2</text>
<line x1="140.50" y1="397.10" x2="142.30" y2="397.10" stroke="#555" stroke-width="0.6"/>
<text x="138.6" y="399.55" font-size="7.0" text-anchor="end" textLength="6.62" lengthAdjust="spacingAndGlyphs" fill="#444" stroke="#444" stroke-width="0.18">0.4</text>
<line x1="140.50" y1="386.00" x2="142.30" y2="386.00" stroke="#555" stroke-width="0.6"/>
<text x="138.6" y="388.45" font-size="7.0" text-anchor="end" textLength="6.62" lengthAdjust="spacingAndGlyphs" fill="#444" stroke="#444" stroke-width="0.18">0.6</text>
<line x1="140.50" y1="374.90" x2="142.30" y2="374.90" stroke="#555" stroke-width="0.6"/>
<text x="138.6" y="377.34999999999997" font-size="7.0" text-anchor="end" textLength="6.62" lengthAdjust="spacingAndGlyphs" fill="#444" stroke="#444" stroke-width="0.18">0.8</text>
<line x1="140.50" y1="363.80" x2="142.30" y2="363.80" stroke="#555" stroke-width="0.6"/>
<text x="138.6" y="366.25" font-size="7.0" text-anchor="end" textLength="6.62" lengthAdjust="spacingAndGlyphs" fill="#444" stroke="#444" stroke-width="0.18">1.0</text>
<line x1="140.50" y1="352.70" x2="142.30" y2="352.70" stroke="#555" stroke-width="0.6"/>
<text x="138.6" y="355.15000000000003" font-size="7.0" text-anchor="end" textLength="6.62" lengthAdjust="spacingAndGlyphs" fill="#444" stroke="#444" stroke-width="0.18">1.2</text>
<line x1="140.50" y1="341.60" x2="142.30" y2="341.60" stroke="#555" stroke-width="0.6"/>
<text x="138.6" y="344.05" font-size="7.0" text-anchor="end" textLength="6.62" lengthAdjust="spacingAndGlyphs" fill="#444" stroke="#444" stroke-width="0.18">1.4</text>
<text x="151.0" y="426.0" font-size="6.5" text-anchor="middle" textLength="10.8" lengthAdjust="spacingAndGlyphs" fill="#444" stroke="#444" stroke-width="0.18">Ex 5</text>
<text x="170.0" y="426.0" font-size="6.5" text-anchor="middle" textLength="13.39" lengthAdjust="spacingAndGlyphs" fill="#444" stroke="#444" stroke-width="0.18">Ex 11</text>
<text x="189.0" y="426.0" font-size="6.5" text-anchor="middle" textLength="21.19" lengthAdjust="spacingAndGlyphs" fill="#444" stroke="#444" stroke-width="0.18">Ex 11-12</text>
<text x="208.0" y="426.0" font-size="6.5" text-anchor="middle" textLength="13.8" lengthAdjust="spacingAndGlyphs" fill="#444" stroke="#444" stroke-width="0.18">Ex 12</text>
<text x="180.2" y="433.7" font-size="6.0" text-anchor="middle" textLength="16.68" lengthAdjust="spacingAndGlyphs" fill="#444" stroke="#444" stroke-width="0.18">CCNE2</text>
<text x="121.7" y="376.0" font-size="6.4" text-anchor="middle" textLength="59.5" lengthAdjust="spacingAndGlyphs" transform="rotate(-90 121.7 376.0)" fill="#333">Relative expression level</text>
<text x="128.9" y="376.0" font-size="6.4" text-anchor="middle" textLength="29.0" lengthAdjust="spacingAndGlyphs" transform="rotate(-90 128.9 376.0)" fill="#333">(MeOH = 1)</text>
<path d="M145.00,350.30 L145.00,348.00 L157.00,348.00 L157.00,350.30" fill="none" stroke="#888" stroke-width="0.5"/>
<text x="151.0" y="348.9" font-size="4.6" text-anchor="middle" textLength="4.83" lengthAdjust="spacingAndGlyphs" fill="#555" stroke="#555" stroke-width="0.18">***</text>
<line x1="144.00" y1="351.50" x2="158.00" y2="351.50" stroke="#555" stroke-width="1.4"/>
<line x1="145.60" y1="352.60" x2="145.60" y2="354.80" stroke="#777" stroke-width="0.7"/>
<line x1="149.20" y1="352.60" x2="149.20" y2="354.80" stroke="#777" stroke-width="0.7"/>
<line x1="152.80" y1="352.60" x2="152.80" y2="354.80" stroke="#777" stroke-width="0.7"/>
<line x1="156.40" y1="352.60" x2="156.40" y2="354.80" stroke="#777" stroke-width="0.7"/>
<path d="M164.00,350.30 L164.00,348.00 L176.00,348.00 L176.00,350.30" fill="none" stroke="#888" stroke-width="0.5"/>
<text x="170.0" y="348.9" font-size="4.6" text-anchor="middle" textLength="4.83" lengthAdjust="spacingAndGlyphs" fill="#555" stroke="#555" stroke-width="0.18">***</text>
<line x1="163.00" y1="351.50" x2="177.00" y2="351.50" stroke="#555" stroke-width="1.4"/>
<line x1="164.60" y1="352.60" x2="164.60" y2="354.80" stroke="#777" stroke-width="0.7"/>
<line x1="168.20" y1="352.60" x2="168.20" y2="354.80" stroke="#777" stroke-width="0.7"/>
<line x1="171.80" y1="352.60" x2="171.80" y2="354.80" stroke="#777" stroke-width="0.7"/>
<line x1="175.40" y1="352.60" x2="175.40" y2="354.80" stroke="#777" stroke-width="0.7"/>
<path d="M183.00,357.60 L183.00,355.30 L195.00,355.30 L195.00,357.60" fill="none" stroke="#888" stroke-width="0.5"/>
<text x="189.0" y="356.2" font-size="4.6" text-anchor="middle" textLength="4.83" lengthAdjust="spacingAndGlyphs" fill="#555" stroke="#555" stroke-width="0.18">***</text>
<line x1="182.00" y1="358.80" x2="196.00" y2="358.80" stroke="#555" stroke-width="1.4"/>
<line x1="183.60" y1="359.90" x2="183.60" y2="362.10" stroke="#777" stroke-width="0.7"/>
<line x1="187.20" y1="359.90" x2="187.20" y2="362.10" stroke="#777" stroke-width="0.7"/>
<line x1="190.80" y1="359.90" x2="190.80" y2="362.10" stroke="#777" stroke-width="0.7"/>
<line x1="194.40" y1="359.90" x2="194.40" y2="362.10" stroke="#777" stroke-width="0.7"/>
<path d="M202.00,353.50 L202.00,351.20 L214.00,351.20 L214.00,353.50" fill="none" stroke="#888" stroke-width="0.5"/>
<text x="208.0" y="352.09999999999997" font-size="4.6" text-anchor="middle" textLength="4.83" lengthAdjust="spacingAndGlyphs" fill="#555" stroke="#555" stroke-width="0.18">***</text>
<line x1="201.00" y1="354.70" x2="215.00" y2="354.70" stroke="#555" stroke-width="1.4"/>
<line x1="202.60" y1="355.80" x2="202.60" y2="358.00" stroke="#777" stroke-width="0.7"/>
<line x1="206.20" y1="355.80" x2="206.20" y2="358.00" stroke="#777" stroke-width="0.7"/>
<line x1="209.80" y1="355.80" x2="209.80" y2="358.00" stroke="#777" stroke-width="0.7"/>
<line x1="213.40" y1="355.80" x2="213.40" y2="358.00" stroke="#777" stroke-width="0.7"/>
<rect x="253.00" y="354.50" width="3.55" height="64.80" fill="#179fe4"/>
<rect x="256.55" y="407.64" width="3.55" height="11.66" fill="#e41f27"/>
<rect x="260.10" y="363.57" width="3.55" height="55.73" fill="#fff200"/>
<rect x="263.65" y="406.99" width="3.55" height="12.31" fill="#119a49"/>
<rect x="272.20" y="354.50" width="3.55" height="64.80" fill="#179fe4"/>
<rect x="275.75" y="409.58" width="3.55" height="9.72" fill="#e41f27"/>
<rect x="279.30" y="363.57" width="3.55" height="55.73" fill="#fff200"/>
<rect x="282.85" y="410.88" width="3.55" height="8.42" fill="#119a49"/>
<rect x="291.30" y="354.50" width="3.55" height="64.80" fill="#179fe4"/>
<rect x="294.85" y="414.44" width="3.55" height="4.86" fill="#e41f27"/>
<rect x="298.40" y="359.88" width="3.55" height="59.42" fill="#fff200"/>
<rect x="301.95" y="414.44" width="3.55" height="4.86" fill="#119a49"/>
<rect x="310.30" y="354.50" width="3.55" height="64.80" fill="#179fe4"/>
<rect x="313.85" y="409.58" width="3.55" height="9.72" fill="#e41f27"/>
<rect x="317.40" y="360.98" width="3.55" height="58.32" fill="#fff200"/>
<rect x="320.95" y="409.26" width="3.55" height="10.04" fill="#119a49"/>
<line x1="258.32" y1="405.04" x2="258.32" y2="407.64" stroke="#c4c4c4" stroke-width="0.9"/>
<line x1="257.12" y1="405.04" x2="259.52" y2="405.04" stroke="#888" stroke-width="0.65"/>
<rect x="257.05" y="407.64" width="2.55" height="2.59" fill="rgba(60,40,0,0.12)"/>
<line x1="258.32" y1="407.64" x2="258.32" y2="410.23" stroke="rgba(0,0,0,0.28)" stroke-width="0.6"/>
<line x1="257.12" y1="410.23" x2="259.52" y2="410.23" stroke="rgba(0,0,0,0.4)" stroke-width="0.6"/>
<line x1="261.88" y1="355.80" x2="261.88" y2="363.57" stroke="#c4c4c4" stroke-width="0.9"/>
<line x1="260.68" y1="355.80" x2="263.07" y2="355.80" stroke="#888" stroke-width="0.65"/>
<rect x="260.60" y="363.57" width="2.55" height="3.89" fill="rgba(60,40,0,0.12)"/>
<line x1="261.88" y1="363.57" x2="261.88" y2="367.46" stroke="rgba(0,0,0,0.28)" stroke-width="0.6"/>
<line x1="260.68" y1="367.46" x2="263.07" y2="367.46" stroke="rgba(0,0,0,0.4)" stroke-width="0.6"/>
<line x1="265.42" y1="402.45" x2="265.42" y2="406.99" stroke="#c4c4c4" stroke-width="0.9"/>
<line x1="264.22" y1="402.45" x2="266.62" y2="402.45" stroke="#888" stroke-width="0.65"/>
<rect x="264.15" y="406.99" width="2.55" height="4.54" fill="rgba(60,40,0,0.12)"/>
<line x1="265.42" y1="406.99" x2="265.42" y2="411.52" stroke="rgba(0,0,0,0.28)" stroke-width="0.6"/>
<line x1="264.22" y1="411.52" x2="266.62" y2="411.52" stroke="rgba(0,0,0,0.4)" stroke-width="0.6"/>
<line x1="277.52" y1="406.99" x2="277.52" y2="409.58" stroke="#c4c4c4" stroke-width="0.9"/>
<line x1="276.32" y1="406.99" x2="278.72" y2="406.99" stroke="#888" stroke-width="0.65"/>
<rect x="276.25" y="409.58" width="2.55" height="2.59" fill="rgba(60,40,0,0.12)"/>
<line x1="277.52" y1="409.58" x2="277.52" y2="412.17" stroke="rgba(0,0,0,0.28)" stroke-width="0.6"/>
<line x1="276.32" y1="412.17" x2="278.72" y2="412.17" stroke="rgba(0,0,0,0.4)" stroke-width="0.6"/>
<line x1="281.07" y1="355.80" x2="281.07" y2="363.57" stroke="#c4c4c4" stroke-width="0.9"/>
<line x1="279.88" y1="355.80" x2="282.27" y2="355.80" stroke="#888" stroke-width="0.65"/>
<rect x="279.80" y="363.57" width="2.55" height="3.89" fill="rgba(60,40,0,0.12)"/>
<line x1="281.07" y1="363.57" x2="281.07" y2="367.46" stroke="rgba(0,0,0,0.28)" stroke-width="0.6"/>
<line x1="279.88" y1="367.46" x2="282.27" y2="367.46" stroke="rgba(0,0,0,0.4)" stroke-width="0.6"/>
<line x1="284.62" y1="408.93" x2="284.62" y2="410.88" stroke="#c4c4c4" stroke-width="0.9"/>
<line x1="283.42" y1="408.93" x2="285.82" y2="408.93" stroke="#888" stroke-width="0.65"/>
<rect x="283.35" y="410.88" width="2.55" height="1.94" fill="rgba(60,40,0,0.12)"/>
<line x1="284.62" y1="410.88" x2="284.62" y2="412.82" stroke="rgba(0,0,0,0.28)" stroke-width="0.6"/>
<line x1="283.42" y1="412.82" x2="285.82" y2="412.82" stroke="rgba(0,0,0,0.4)" stroke-width="0.6"/>
<line x1="296.62" y1="412.82" x2="296.62" y2="414.44" stroke="#c4c4c4" stroke-width="0.9"/>
<line x1="295.43" y1="412.82" x2="297.82" y2="412.82" stroke="#888" stroke-width="0.65"/>
<rect x="295.35" y="414.44" width="2.55" height="1.62" fill="rgba(60,40,0,0.12)"/>
<line x1="296.62" y1="414.44" x2="296.62" y2="416.06" stroke="rgba(0,0,0,0.28)" stroke-width="0.6"/>
<line x1="295.43" y1="416.06" x2="297.82" y2="416.06" stroke="rgba(0,0,0,0.4)" stroke-width="0.6"/>
<line x1="300.18" y1="352.56" x2="300.18" y2="359.88" stroke="#c4c4c4" stroke-width="0.9"/>
<line x1="298.98" y1="352.56" x2="301.38" y2="352.56" stroke="#888" stroke-width="0.65"/>
<rect x="298.90" y="359.88" width="2.55" height="7.58" fill="rgba(60,40,0,0.12)"/>
<line x1="300.18" y1="359.88" x2="300.18" y2="367.46" stroke="rgba(0,0,0,0.28)" stroke-width="0.6"/>
<line x1="298.98" y1="367.46" x2="301.38" y2="367.46" stroke="rgba(0,0,0,0.4)" stroke-width="0.6"/>
<line x1="303.72" y1="412.82" x2="303.72" y2="414.44" stroke="#c4c4c4" stroke-width="0.9"/>
<line x1="302.52" y1="412.82" x2="304.92" y2="412.82" stroke="#888" stroke-width="0.65"/>
<rect x="302.45" y="414.44" width="2.55" height="1.62" fill="rgba(60,40,0,0.12)"/>
<line x1="303.72" y1="414.44" x2="303.72" y2="416.06" stroke="rgba(0,0,0,0.28)" stroke-width="0.6"/>
<line x1="302.52" y1="416.06" x2="304.92" y2="416.06" stroke="rgba(0,0,0,0.4)" stroke-width="0.6"/>
<line x1="315.62" y1="406.99" x2="315.62" y2="409.58" stroke="#c4c4c4" stroke-width="0.9"/>
<line x1="314.43" y1="406.99" x2="316.82" y2="406.99" stroke="#888" stroke-width="0.65"/>
<rect x="314.35" y="409.58" width="2.55" height="2.59" fill="rgba(60,40,0,0.12)"/>
<line x1="315.62" y1="409.58" x2="315.62" y2="412.17" stroke="rgba(0,0,0,0.28)" stroke-width="0.6"/>
<line x1="314.43" y1="412.17" x2="316.82" y2="412.17" stroke="rgba(0,0,0,0.4)" stroke-width="0.6"/>
<line x1="319.18" y1="353.20" x2="319.18" y2="360.98" stroke="#c4c4c4" stroke-width="0.9"/>
<line x1="317.98" y1="353.20" x2="320.38" y2="353.20" stroke="#888" stroke-width="0.65"/>
<rect x="317.90" y="360.98" width="2.55" height="9.07" fill="rgba(60,40,0,0.12)"/>
<line x1="319.18" y1="360.98" x2="319.18" y2="370.05" stroke="rgba(0,0,0,0.28)" stroke-width="0.6"/>
<line x1="317.98" y1="370.05" x2="320.38" y2="370.05" stroke="rgba(0,0,0,0.4)" stroke-width="0.6"/>
<line x1="322.72" y1="406.99" x2="322.72" y2="409.26" stroke="#c4c4c4" stroke-width="0.9"/>
<line x1="321.52" y1="406.99" x2="323.92" y2="406.99" stroke="#888" stroke-width="0.65"/>
<rect x="321.45" y="409.26" width="2.55" height="2.27" fill="rgba(60,40,0,0.12)"/>
<line x1="322.72" y1="409.26" x2="322.72" y2="411.52" stroke="rgba(0,0,0,0.28)" stroke-width="0.6"/>
<line x1="321.52" y1="411.52" x2="323.92" y2="411.52" stroke="rgba(0,0,0,0.4)" stroke-width="0.6"/>
<line x1="249.40" y1="341.54" x2="249.40" y2="419.65" stroke="#555" stroke-width="0.7"/>
<line x1="249.40" y1="419.30" x2="328.40" y2="419.30" stroke="#555" stroke-width="0.7"/>
<line x1="249.40" y1="419.30" x2="251.20" y2="419.30" stroke="#555" stroke-width="0.6"/>
<text x="247.5" y="421.75" font-size="7.0" text-anchor="end" textLength="2.65" lengthAdjust="spacingAndGlyphs" fill="#444" stroke="#444" stroke-width="0.18">0</text>
<line x1="249.40" y1="406.34" x2="251.20" y2="406.34" stroke="#555" stroke-width="0.6"/>
<text x="247.5" y="408.79" font-size="7.0" text-anchor="end" textLength="6.62" lengthAdjust="spacingAndGlyphs" fill="#444" stroke="#444" stroke-width="0.18">0.2</text>
<line x1="249.40" y1="393.38" x2="251.20" y2="393.38" stroke="#555" stroke-width="0.6"/>
<text x="247.5" y="395.83" font-size="7.0" text-anchor="end" textLength="6.62" lengthAdjust="spacingAndGlyphs" fill="#444" stroke="#444" stroke-width="0.18">0.4</text>
<line x1="249.40" y1="380.42" x2="251.20" y2="380.42" stroke="#555" stroke-width="0.6"/>
<text x="247.5" y="382.87" font-size="7.0" text-anchor="end" textLength="6.62" lengthAdjust="spacingAndGlyphs" fill="#444" stroke="#444" stroke-width="0.18">0.6</text>
<line x1="249.40" y1="367.46" x2="251.20" y2="367.46" stroke="#555" stroke-width="0.6"/>
<text x="247.5" y="369.91" font-size="7.0" text-anchor="end" textLength="6.62" lengthAdjust="spacingAndGlyphs" fill="#444" stroke="#444" stroke-width="0.18">0.8</text>
<line x1="249.40" y1="354.50" x2="251.20" y2="354.50" stroke="#555" stroke-width="0.6"/>
<text x="247.5" y="356.95" font-size="7.0" text-anchor="end" textLength="6.62" lengthAdjust="spacingAndGlyphs" fill="#444" stroke="#444" stroke-width="0.18">1.0</text>
<line x1="249.40" y1="341.54" x2="251.20" y2="341.54" stroke="#555" stroke-width="0.6"/>
<text x="247.5" y="343.99" font-size="7.0" text-anchor="end" textLength="6.62" lengthAdjust="spacingAndGlyphs" fill="#444" stroke="#444" stroke-width="0.18">1.2</text>
<text x="260.1" y="426.0" font-size="6.5" text-anchor="middle" textLength="10.8" lengthAdjust="spacingAndGlyphs" fill="#444" stroke="#444" stroke-width="0.18">Ex 3</text>
<text x="279.3" y="426.0" font-size="6.5" text-anchor="middle" textLength="10.8" lengthAdjust="spacingAndGlyphs" fill="#444" stroke="#444" stroke-width="0.18">Ex 6</text>
<text x="298.40000000000003" y="426.0" font-size="6.5" text-anchor="middle" textLength="15.59" lengthAdjust="spacingAndGlyphs" fill="#444" stroke="#444" stroke-width="0.18">Ex 6-7</text>
<text x="317.40000000000003" y="426.0" font-size="6.5" text-anchor="middle" textLength="10.8" lengthAdjust="spacingAndGlyphs" fill="#444" stroke="#444" stroke-width="0.18">Ex 7</text>
<text x="288.7" y="433.7" font-size="6.0" font-style="italic" text-anchor="middle" textLength="11.76" lengthAdjust="spacingAndGlyphs" fill="#444" stroke="#444" stroke-width="0.18">E2F1</text>
<text x="230.6" y="376.0" font-size="6.4" text-anchor="middle" textLength="59.5" lengthAdjust="spacingAndGlyphs" transform="rotate(-90 230.6 376.0)" fill="#333">Relative expression level</text>
<text x="237.6" y="376.0" font-size="6.4" text-anchor="middle" textLength="29.0" lengthAdjust="spacingAndGlyphs" transform="rotate(-90 237.6 376.0)" fill="#333">(MeOH = 1)</text>
<path d="M254.18,346.70 L254.18,344.40 L266.03,344.40 L266.03,346.70" fill="none" stroke="#888" stroke-width="0.5"/>
<text x="260.1" y="345.29999999999995" font-size="4.6" text-anchor="middle" textLength="4.83" lengthAdjust="spacingAndGlyphs" fill="#555" stroke="#555" stroke-width="0.18">***</text>
<line x1="253.18" y1="347.90" x2="267.03" y2="347.90" stroke="#555" stroke-width="1.4"/>
<line x1="254.78" y1="349.00" x2="254.78" y2="351.20" stroke="#777" stroke-width="0.7"/>
<line x1="258.32" y1="349.00" x2="258.32" y2="351.20" stroke="#777" stroke-width="0.7"/>
<line x1="261.88" y1="349.00" x2="261.88" y2="351.20" stroke="#777" stroke-width="0.7"/>
<line x1="265.43" y1="349.00" x2="265.43" y2="351.20" stroke="#777" stroke-width="0.7"/>
<path d="M273.37,346.70 L273.37,344.40 L285.23,344.40 L285.23,346.70" fill="none" stroke="#888" stroke-width="0.5"/>
<text x="279.29999999999995" y="345.29999999999995" font-size="4.6" text-anchor="middle" textLength="4.83" lengthAdjust="spacingAndGlyphs" fill="#555" stroke="#555" stroke-width="0.18">***</text>
<line x1="272.37" y1="347.90" x2="286.23" y2="347.90" stroke="#555" stroke-width="1.4"/>
<line x1="273.97" y1="349.00" x2="273.97" y2="351.20" stroke="#777" stroke-width="0.7"/>
<line x1="277.52" y1="349.00" x2="277.52" y2="351.20" stroke="#777" stroke-width="0.7"/>
<line x1="281.07" y1="349.00" x2="281.07" y2="351.20" stroke="#777" stroke-width="0.7"/>
<line x1="284.62" y1="349.00" x2="284.62" y2="351.20" stroke="#777" stroke-width="0.7"/>
<path d="M292.47,346.70 L292.47,344.40 L304.33,344.40 L304.33,346.70" fill="none" stroke="#888" stroke-width="0.5"/>
<text x="298.4" y="345.29999999999995" font-size="4.6" text-anchor="middle" textLength="4.83" lengthAdjust="spacingAndGlyphs" fill="#555" stroke="#555" stroke-width="0.18">***</text>
<line x1="291.47" y1="347.90" x2="305.33" y2="347.90" stroke="#555" stroke-width="1.4"/>
<line x1="293.07" y1="349.00" x2="293.07" y2="351.20" stroke="#777" stroke-width="0.7"/>
<line x1="296.62" y1="349.00" x2="296.62" y2="351.20" stroke="#777" stroke-width="0.7"/>
<line x1="300.18" y1="349.00" x2="300.18" y2="351.20" stroke="#777" stroke-width="0.7"/>
<line x1="303.73" y1="349.00" x2="303.73" y2="351.20" stroke="#777" stroke-width="0.7"/>
<path d="M311.47,346.70 L311.47,344.40 L323.33,344.40 L323.33,346.70" fill="none" stroke="#888" stroke-width="0.5"/>
<text x="317.4" y="345.29999999999995" font-size="4.6" text-anchor="middle" textLength="4.83" lengthAdjust="spacingAndGlyphs" fill="#555" stroke="#555" stroke-width="0.18">***</text>
<line x1="310.47" y1="347.90" x2="324.33" y2="347.90" stroke="#555" stroke-width="1.4"/>
<line x1="312.07" y1="349.00" x2="312.07" y2="351.20" stroke="#777" stroke-width="0.7"/>
<line x1="315.62" y1="349.00" x2="315.62" y2="351.20" stroke="#777" stroke-width="0.7"/>
<line x1="319.18" y1="349.00" x2="319.18" y2="351.20" stroke="#777" stroke-width="0.7"/>
<line x1="322.73" y1="349.00" x2="322.73" y2="351.20" stroke="#777" stroke-width="0.7"/>
<rect x="333.20" y="365.75" width="3.90" height="3.90" fill="#179fe4"/>
<text x="338.7" y="370.0" font-size="6.5" textLength="43.91" lengthAdjust="spacingAndGlyphs" fill="#3a3a3a" stroke="#3a3a3a" stroke-width="0.18">MeOH+Ctrl siRNA</text>
<rect x="333.20" y="373.75" width="3.90" height="3.90" fill="#e41f27"/>
<text x="338.7" y="378.0" font-size="6.5" textLength="39.12" lengthAdjust="spacingAndGlyphs" fill="#3a3a3a" stroke="#3a3a3a" stroke-width="0.18">SSA+Ctrl siRNA</text>
<rect x="333.20" y="381.75" width="3.90" height="3.90" fill="#fff200"/>
<text x="338.7" y="386.0" font-size="6.5" textLength="49.91" lengthAdjust="spacingAndGlyphs" fill="#3a3a3a" stroke="#3a3a3a" stroke-width="0.18">MeOH+RRP4 siRNA</text>
<rect x="333.20" y="389.75" width="3.90" height="3.90" fill="#119a49"/>
<text x="338.7" y="394.0" font-size="6.5" textLength="45.12" lengthAdjust="spacingAndGlyphs" fill="#3a3a3a" stroke="#3a3a3a" stroke-width="0.18">SSA+RRP4 siRNA</text>
<rect x="33.60" y="501.40" width="3.65" height="31.00" fill="#179fe4"/>
<rect x="37.25" y="483.73" width="3.65" height="48.67" fill="#e41f27"/>
<rect x="40.90" y="520.62" width="3.65" height="11.78" fill="#fff200"/>
<rect x="44.55" y="511.01" width="3.65" height="21.39" fill="#119a49"/>
<rect x="53.00" y="501.40" width="3.65" height="31.00" fill="#179fe4"/>
<rect x="56.65" y="514.73" width="3.65" height="17.67" fill="#e41f27"/>
<rect x="60.30" y="527.13" width="3.65" height="5.27" fill="#fff200"/>
<rect x="63.95" y="524.65" width="3.65" height="7.75" fill="#119a49"/>
<rect x="72.00" y="501.40" width="3.65" height="31.00" fill="#179fe4"/>
<rect x="75.65" y="514.73" width="3.65" height="17.67" fill="#e41f27"/>
<rect x="79.30" y="530.85" width="3.65" height="1.55" fill="#fff200"/>
<rect x="82.95" y="531.00" width="3.65" height="1.40" fill="#119a49"/>
<rect x="91.60" y="501.40" width="3.65" height="31.00" fill="#179fe4"/>
<rect x="95.25" y="512.87" width="3.65" height="19.53" fill="#e41f27"/>
<rect x="98.90" y="528.06" width="3.65" height="4.34" fill="#fff200"/>
<rect x="102.55" y="527.13" width="3.65" height="5.27" fill="#119a49"/>
<line x1="39.08" y1="465.75" x2="39.08" y2="483.73" stroke="#c4c4c4" stroke-width="0.8"/>
<line x1="37.88" y1="465.75" x2="40.28" y2="465.75" stroke="#888" stroke-width="0.65"/>
<line x1="39.08" y1="483.73" x2="39.08" y2="501.71" stroke="rgba(0,0,0,0.28)" stroke-width="0.6"/>
<line x1="37.88" y1="501.71" x2="40.28" y2="501.71" stroke="rgba(0,0,0,0.35)" stroke-width="0.6"/>
<line x1="42.73" y1="518.45" x2="42.73" y2="520.62" stroke="#c4c4c4" stroke-width="0.8"/>
<line x1="41.52" y1="518.45" x2="43.93" y2="518.45" stroke="#888" stroke-width="0.65"/>
<line x1="42.73" y1="520.62" x2="42.73" y2="522.79" stroke="rgba(0,0,0,0.28)" stroke-width="0.6"/>
<line x1="41.52" y1="522.79" x2="43.93" y2="522.79" stroke="rgba(0,0,0,0.35)" stroke-width="0.6"/>
<line x1="46.38" y1="501.40" x2="46.38" y2="511.01" stroke="#c4c4c4" stroke-width="0.8"/>
<line x1="45.17" y1="501.40" x2="47.58" y2="501.40" stroke="#888" stroke-width="0.65"/>
<line x1="46.38" y1="511.01" x2="46.38" y2="520.62" stroke="rgba(0,0,0,0.28)" stroke-width="0.6"/>
<line x1="45.17" y1="520.62" x2="47.58" y2="520.62" stroke="rgba(0,0,0,0.35)" stroke-width="0.6"/>
<line x1="58.48" y1="505.12" x2="58.48" y2="514.73" stroke="#c4c4c4" stroke-width="0.8"/>
<line x1="57.27" y1="505.12" x2="59.68" y2="505.12" stroke="#888" stroke-width="0.65"/>
<line x1="58.48" y1="514.73" x2="58.48" y2="524.34" stroke="rgba(0,0,0,0.28)" stroke-width="0.6"/>
<line x1="57.27" y1="524.34" x2="59.68" y2="524.34" stroke="rgba(0,0,0,0.35)" stroke-width="0.6"/>
<line x1="62.12" y1="525.58" x2="62.12" y2="527.13" stroke="#c4c4c4" stroke-width="0.8"/>
<line x1="60.92" y1="525.58" x2="63.33" y2="525.58" stroke="#888" stroke-width="0.65"/>
<line x1="62.12" y1="527.13" x2="62.12" y2="528.68" stroke="rgba(0,0,0,0.28)" stroke-width="0.6"/>
<line x1="60.92" y1="528.68" x2="63.33" y2="528.68" stroke="rgba(0,0,0,0.35)" stroke-width="0.6"/>
<line x1="65.78" y1="523.41" x2="65.78" y2="524.65" stroke="#c4c4c4" stroke-width="0.8"/>
<line x1="64.58" y1="523.41" x2="66.98" y2="523.41" stroke="#888" stroke-width="0.65"/>
<line x1="65.78" y1="524.65" x2="65.78" y2="525.89" stroke="rgba(0,0,0,0.28)" stroke-width="0.6"/>
<line x1="64.58" y1="525.89" x2="66.98" y2="525.89" stroke="rgba(0,0,0,0.35)" stroke-width="0.6"/>
<line x1="77.48" y1="510.08" x2="77.48" y2="514.73" stroke="#c4c4c4" stroke-width="0.8"/>
<line x1="76.28" y1="510.08" x2="78.68" y2="510.08" stroke="#888" stroke-width="0.65"/>
<line x1="77.48" y1="514.73" x2="77.48" y2="519.38" stroke="rgba(0,0,0,0.28)" stroke-width="0.6"/>
<line x1="76.28" y1="519.38" x2="78.68" y2="519.38" stroke="rgba(0,0,0,0.35)" stroke-width="0.6"/>
<line x1="81.12" y1="530.23" x2="81.12" y2="530.85" stroke="#c4c4c4" stroke-width="0.8"/>
<line x1="79.92" y1="530.23" x2="82.33" y2="530.23" stroke="#888" stroke-width="0.65"/>
<line x1="81.12" y1="530.85" x2="81.12" y2="531.47" stroke="rgba(0,0,0,0.28)" stroke-width="0.6"/>
<line x1="79.92" y1="531.47" x2="82.33" y2="531.47" stroke="rgba(0,0,0,0.35)" stroke-width="0.6"/>
<line x1="84.78" y1="530.54" x2="84.78" y2="531.00" stroke="#c4c4c4" stroke-width="0.8"/>
<line x1="83.58" y1="530.54" x2="85.98" y2="530.54" stroke="#888" stroke-width="0.65"/>
<line x1="84.78" y1="531.00" x2="84.78" y2="531.47" stroke="rgba(0,0,0,0.28)" stroke-width="0.6"/>
<line x1="83.58" y1="531.47" x2="85.98" y2="531.47" stroke="rgba(0,0,0,0.35)" stroke-width="0.6"/>
<line x1="97.08" y1="502.02" x2="97.08" y2="512.87" stroke="#c4c4c4" stroke-width="0.8"/>
<line x1="95.88" y1="502.02" x2="98.28" y2="502.02" stroke="#888" stroke-width="0.65"/>
<line x1="97.08" y1="512.87" x2="97.08" y2="523.72" stroke="rgba(0,0,0,0.28)" stroke-width="0.6"/>
<line x1="95.88" y1="523.72" x2="98.28" y2="523.72" stroke="rgba(0,0,0,0.35)" stroke-width="0.6"/>
<line x1="100.72" y1="525.58" x2="100.72" y2="528.06" stroke="#c4c4c4" stroke-width="0.8"/>
<line x1="99.52" y1="525.58" x2="101.92" y2="525.58" stroke="#888" stroke-width="0.65"/>
<line x1="100.72" y1="528.06" x2="100.72" y2="530.54" stroke="rgba(0,0,0,0.28)" stroke-width="0.6"/>
<line x1="99.52" y1="530.54" x2="101.92" y2="530.54" stroke="rgba(0,0,0,0.35)" stroke-width="0.6"/>
<line x1="104.38" y1="525.58" x2="104.38" y2="527.13" stroke="#c4c4c4" stroke-width="0.8"/>
<line x1="103.17" y1="525.58" x2="105.58" y2="525.58" stroke="#888" stroke-width="0.65"/>
<line x1="104.38" y1="527.13" x2="104.38" y2="528.68" stroke="rgba(0,0,0,0.28)" stroke-width="0.6"/>
<line x1="103.17" y1="528.68" x2="105.58" y2="528.68" stroke="rgba(0,0,0,0.35)" stroke-width="0.6"/>
<line x1="29.50" y1="454.90" x2="29.50" y2="532.75" stroke="#555" stroke-width="0.7"/>
<line x1="29.50" y1="532.40" x2="109.70" y2="532.40" stroke="#555" stroke-width="0.7"/>
<line x1="29.50" y1="532.40" x2="31.30" y2="532.40" stroke="#555" stroke-width="0.6"/>
<text x="27.6" y="534.85" font-size="7.0" text-anchor="end" textLength="2.65" lengthAdjust="spacingAndGlyphs" fill="#444" stroke="#444" stroke-width="0.18">0</text>
<line x1="29.50" y1="516.90" x2="31.30" y2="516.90" stroke="#555" stroke-width="0.6"/>
<text x="27.6" y="519.35" font-size="7.0" text-anchor="end" textLength="6.62" lengthAdjust="spacingAndGlyphs" fill="#444" stroke="#444" stroke-width="0.18">0.5</text>
<line x1="29.50" y1="501.40" x2="31.30" y2="501.40" stroke="#555" stroke-width="0.6"/>
<text x="27.6" y="503.84999999999997" font-size="7.0" text-anchor="end" textLength="6.62" lengthAdjust="spacingAndGlyphs" fill="#444" stroke="#444" stroke-width="0.18">1.0</text>
<line x1="29.50" y1="485.90" x2="31.30" y2="485.90" stroke="#555" stroke-width="0.6"/>
<text x="27.6" y="488.34999999999997" font-size="7.0" text-anchor="end" textLength="6.62" lengthAdjust="spacingAndGlyphs" fill="#444" stroke="#444" stroke-width="0.18">1.5</text>
<line x1="29.50" y1="470.40" x2="31.30" y2="470.40" stroke="#555" stroke-width="0.6"/>
<text x="27.6" y="472.84999999999997" font-size="7.0" text-anchor="end" textLength="6.62" lengthAdjust="spacingAndGlyphs" fill="#444" stroke="#444" stroke-width="0.18">2.0</text>
<line x1="29.50" y1="454.90" x2="31.30" y2="454.90" stroke="#555" stroke-width="0.6"/>
<text x="27.6" y="457.34999999999997" font-size="7.0" text-anchor="end" textLength="6.62" lengthAdjust="spacingAndGlyphs" fill="#444" stroke="#444" stroke-width="0.18">2.5</text>
<text x="40.9" y="539.0" font-size="6.5" text-anchor="middle" textLength="10.8" lengthAdjust="spacingAndGlyphs" fill="#444" stroke="#444" stroke-width="0.18">Ex 3</text>
<text x="60.3" y="539.0" font-size="6.5" text-anchor="middle" textLength="10.8" lengthAdjust="spacingAndGlyphs" fill="#444" stroke="#444" stroke-width="0.18">Ex 6</text>
<text x="79.3" y="539.0" font-size="6.5" text-anchor="middle" textLength="15.59" lengthAdjust="spacingAndGlyphs" fill="#444" stroke="#444" stroke-width="0.18">Ex 6-7</text>
<text x="98.89999999999999" y="539.0" font-size="6.5" text-anchor="middle" textLength="10.8" lengthAdjust="spacingAndGlyphs" fill="#444" stroke="#444" stroke-width="0.18">Ex 7</text>
<text x="69.1" y="545.8" font-size="6.0" text-anchor="middle" textLength="16.68" lengthAdjust="spacingAndGlyphs" fill="#444" stroke="#444" stroke-width="0.18">CCNE1</text>
<text x="11.0" y="493.5" font-size="6.4" text-anchor="middle" textLength="59.5" lengthAdjust="spacingAndGlyphs" transform="rotate(-90 11.0 493.5)" fill="#333">Relative expression level</text>
<text x="18.299999999999997" y="493.5" font-size="6.4" text-anchor="middle" textLength="29.0" lengthAdjust="spacingAndGlyphs" transform="rotate(-90 18.299999999999997 493.5)" fill="#333">(MeOH = 1)</text>
<path d="M39.08,458.20 Q39.08,456.60 40.08,456.60 L45.38,456.60 Q46.38,456.60 46.38,458.20" fill="none" stroke="#777" stroke-width="0.55"/>
<text x="42.725" y="456.20000000000005" font-size="5.4" text-anchor="middle" textLength="1.89" lengthAdjust="spacingAndGlyphs" fill="#444" stroke="#444" stroke-width="0.18">*</text>
<path d="M39.08,463.60 Q39.08,462.00 40.08,462.00 L41.73,462.00 Q42.73,462.00 42.73,463.60" fill="none" stroke="#777" stroke-width="0.55"/>
<text x="40.900000000000006" y="461.6" font-size="5.4" text-anchor="middle" textLength="3.78" lengthAdjust="spacingAndGlyphs" fill="#444" stroke="#444" stroke-width="0.18">**</text>
<path d="M54.83,490.20 Q54.83,488.60 55.83,488.60 L64.78,488.60 Q65.78,488.60 65.78,490.20" fill="none" stroke="#777" stroke-width="0.55"/>
<text x="60.300000000000004" y="488.20000000000005" font-size="5.4" text-anchor="middle" textLength="3.78" lengthAdjust="spacingAndGlyphs" fill="#444" stroke="#444" stroke-width="0.18">**</text>
<path d="M54.83,495.40 Q54.83,493.80 55.83,493.80 L61.12,493.80 Q62.12,493.80 62.12,495.40" fill="none" stroke="#777" stroke-width="0.55"/>
<text x="58.475" y="493.40000000000003" font-size="5.4" text-anchor="middle" textLength="3.78" lengthAdjust="spacingAndGlyphs" fill="#444" stroke="#444" stroke-width="0.18">**</text>
<path d="M54.83,499.60 Q54.83,498.00 55.83,498.00 L57.48,498.00 Q58.48,498.00 58.48,499.60" fill="none" stroke="#777" stroke-width="0.55"/>
<text x="56.650000000000006" y="497.6" font-size="5.4" text-anchor="middle" textLength="1.89" lengthAdjust="spacingAndGlyphs" fill="#444" stroke="#444" stroke-width="0.18">*</text>
<path d="M73.83,489.50 Q73.83,487.90 74.83,487.90 L83.78,487.90 Q84.78,487.90 84.78,489.50" fill="none" stroke="#777" stroke-width="0.55"/>
<text x="79.30000000000001" y="487.5" font-size="5.4" text-anchor="middle" textLength="5.67" lengthAdjust="spacingAndGlyphs" fill="#444" stroke="#444" stroke-width="0.18">***</text>
<path d="M73.83,494.20 Q73.83,492.60 74.83,492.60 L80.12,492.60 Q81.12,492.60 81.12,494.20" fill="none" stroke="#777" stroke-width="0.55"/>
<text x="77.475" y="492.20000000000005" font-size="5.4" text-anchor="middle" textLength="5.67" lengthAdjust="spacingAndGlyphs" fill="#444" stroke="#444" stroke-width="0.18">***</text>
<path d="M73.83,499.00 Q73.83,497.40 74.83,497.40 L76.47,497.40 Q77.47,497.40 77.47,499.00" fill="none" stroke="#777" stroke-width="0.55"/>
<text x="75.65" y="497.0" font-size="5.4" text-anchor="middle" textLength="5.67" lengthAdjust="spacingAndGlyphs" fill="#444" stroke="#444" stroke-width="0.18">***</text>
<path d="M77.47,503.80 Q77.47,502.20 78.47,502.20 L83.78,502.20 Q84.78,502.20 84.78,503.80" fill="none" stroke="#777" stroke-width="0.55"/>
<text x="81.125" y="501.8" font-size="5.4" text-anchor="middle" textLength="5.67" lengthAdjust="spacingAndGlyphs" fill="#444" stroke="#444" stroke-width="0.18">***</text>
<path d="M77.47,508.60 Q77.47,507.00 78.47,507.00 L80.12,507.00 Q81.12,507.00 81.12,508.60" fill="none" stroke="#777" stroke-width="0.55"/>
<text x="79.3" y="506.6" font-size="5.4" text-anchor="middle" textLength="5.67" lengthAdjust="spacingAndGlyphs" fill="#444" stroke="#444" stroke-width="0.18">***</text>
<path d="M93.42,486.50 Q93.42,484.90 94.42,484.90 L103.38,484.90 Q104.38,484.90 104.38,486.50" fill="none" stroke="#777" stroke-width="0.55"/>
<text x="98.9" y="484.5" font-size="5.4" text-anchor="middle" textLength="5.67" lengthAdjust="spacingAndGlyphs" fill="#444" stroke="#444" stroke-width="0.18">***</text>
<path d="M93.42,492.20 Q93.42,490.60 94.42,490.60 L99.72,490.60 Q100.72,490.60 100.72,492.20" fill="none" stroke="#777" stroke-width="0.55"/>
<text x="97.07499999999999" y="490.20000000000005" font-size="5.4" text-anchor="middle" textLength="5.67" lengthAdjust="spacingAndGlyphs" fill="#444" stroke="#444" stroke-width="0.18">***</text>
<path d="M97.07,497.60 Q97.07,496.00 98.07,496.00 L103.38,496.00 Q104.38,496.00 104.38,497.60" fill="none" stroke="#777" stroke-width="0.55"/>
<text x="100.725" y="495.6" font-size="5.4" text-anchor="middle" textLength="1.89" lengthAdjust="spacingAndGlyphs" fill="#444" stroke="#444" stroke-width="0.18">*</text>
<path d="M97.07,502.00 Q97.07,500.40 98.07,500.40 L99.72,500.40 Q100.72,500.40 100.72,502.00" fill="none" stroke="#777" stroke-width="0.55"/>
<text x="98.89999999999999" y="500.0" font-size="5.4" text-anchor="middle" textLength="1.89" lengthAdjust="spacingAndGlyphs" fill="#444" stroke="#444" stroke-width="0.18">*</text>
<rect x="143.00" y="483.60" width="3.75" height="48.60" fill="#179fe4"/>
<rect x="146.75" y="487.97" width="3.75" height="44.23" fill="#e41f27"/>
<rect x="150.50" y="520.54" width="3.75" height="11.66" fill="#fff200"/>
<rect x="154.25" y="514.22" width="3.75" height="17.98" fill="#119a49"/>
<rect x="162.40" y="483.60" width="3.75" height="48.60" fill="#179fe4"/>
<rect x="166.15" y="495.26" width="3.75" height="36.94" fill="#e41f27"/>
<rect x="169.90" y="523.94" width="3.75" height="8.26" fill="#fff200"/>
<rect x="173.65" y="520.54" width="3.75" height="11.66" fill="#119a49"/>
<rect x="181.80" y="483.60" width="3.75" height="48.60" fill="#179fe4"/>
<rect x="185.55" y="498.18" width="3.75" height="34.02" fill="#e41f27"/>
<rect x="189.30" y="530.26" width="3.75" height="1.94" fill="#fff200"/>
<rect x="193.05" y="525.88" width="3.75" height="6.32" fill="#119a49"/>
<rect x="201.20" y="483.60" width="3.75" height="48.60" fill="#179fe4"/>
<rect x="204.95" y="499.15" width="3.75" height="33.05" fill="#e41f27"/>
<rect x="208.70" y="525.40" width="3.75" height="6.80" fill="#fff200"/>
<rect x="212.45" y="524.42" width="3.75" height="7.78" fill="#119a49"/>
<line x1="148.62" y1="456.87" x2="148.62" y2="487.97" stroke="#c4c4c4" stroke-width="0.8"/>
<line x1="147.43" y1="456.87" x2="149.82" y2="456.87" stroke="#888" stroke-width="0.65"/>
<line x1="148.62" y1="487.97" x2="148.62" y2="519.08" stroke="rgba(0,0,0,0.28)" stroke-width="0.6"/>
<line x1="147.43" y1="519.08" x2="149.82" y2="519.08" stroke="rgba(0,0,0,0.35)" stroke-width="0.6"/>
<line x1="152.38" y1="510.33" x2="152.38" y2="520.54" stroke="#c4c4c4" stroke-width="0.8"/>
<line x1="151.18" y1="510.33" x2="153.57" y2="510.33" stroke="#888" stroke-width="0.65"/>
<line x1="152.38" y1="520.54" x2="152.38" y2="530.74" stroke="rgba(0,0,0,0.28)" stroke-width="0.6"/>
<line x1="151.18" y1="530.74" x2="153.57" y2="530.74" stroke="rgba(0,0,0,0.35)" stroke-width="0.6"/>
<line x1="156.12" y1="496.24" x2="156.12" y2="514.22" stroke="#c4c4c4" stroke-width="0.8"/>
<line x1="154.93" y1="496.24" x2="157.32" y2="496.24" stroke="#888" stroke-width="0.65"/>
<line x1="156.12" y1="514.22" x2="156.12" y2="532.20" stroke="rgba(0,0,0,0.28)" stroke-width="0.6"/>
<line x1="154.93" y1="532.20" x2="157.32" y2="532.20" stroke="rgba(0,0,0,0.35)" stroke-width="0.6"/>
<line x1="168.03" y1="478.74" x2="168.03" y2="495.26" stroke="#c4c4c4" stroke-width="0.8"/>
<line x1="166.83" y1="478.74" x2="169.22" y2="478.74" stroke="#888" stroke-width="0.65"/>
<line x1="168.03" y1="495.26" x2="168.03" y2="511.79" stroke="rgba(0,0,0,0.28)" stroke-width="0.6"/>
<line x1="166.83" y1="511.79" x2="169.22" y2="511.79" stroke="rgba(0,0,0,0.35)" stroke-width="0.6"/>
<line x1="171.78" y1="516.65" x2="171.78" y2="523.94" stroke="#c4c4c4" stroke-width="0.8"/>
<line x1="170.58" y1="516.65" x2="172.97" y2="516.65" stroke="#888" stroke-width="0.65"/>
<line x1="171.78" y1="523.94" x2="171.78" y2="531.23" stroke="rgba(0,0,0,0.28)" stroke-width="0.6"/>
<line x1="170.58" y1="531.23" x2="172.97" y2="531.23" stroke="rgba(0,0,0,0.35)" stroke-width="0.6"/>
<line x1="175.53" y1="512.76" x2="175.53" y2="520.54" stroke="#c4c4c4" stroke-width="0.8"/>
<line x1="174.33" y1="512.76" x2="176.72" y2="512.76" stroke="#888" stroke-width="0.65"/>
<line x1="175.53" y1="520.54" x2="175.53" y2="528.31" stroke="rgba(0,0,0,0.28)" stroke-width="0.6"/>
<line x1="174.33" y1="528.31" x2="176.72" y2="528.31" stroke="rgba(0,0,0,0.35)" stroke-width="0.6"/>
<line x1="187.43" y1="483.60" x2="187.43" y2="498.18" stroke="#c4c4c4" stroke-width="0.8"/>
<line x1="186.23" y1="483.60" x2="188.62" y2="483.60" stroke="#888" stroke-width="0.65"/>
<line x1="187.43" y1="498.18" x2="187.43" y2="512.76" stroke="rgba(0,0,0,0.28)" stroke-width="0.6"/>
<line x1="186.23" y1="512.76" x2="188.62" y2="512.76" stroke="rgba(0,0,0,0.35)" stroke-width="0.6"/>
<line x1="191.18" y1="529.77" x2="191.18" y2="530.26" stroke="#c4c4c4" stroke-width="0.8"/>
<line x1="189.98" y1="529.77" x2="192.38" y2="529.77" stroke="#888" stroke-width="0.65"/>
<line x1="191.18" y1="530.26" x2="191.18" y2="530.74" stroke="rgba(0,0,0,0.28)" stroke-width="0.6"/>
<line x1="189.98" y1="530.74" x2="192.38" y2="530.74" stroke="rgba(0,0,0,0.35)" stroke-width="0.6"/>
<line x1="194.93" y1="516.65" x2="194.93" y2="525.88" stroke="#c4c4c4" stroke-width="0.8"/>
<line x1="193.73" y1="516.65" x2="196.12" y2="516.65" stroke="#888" stroke-width="0.65"/>
<line x1="194.93" y1="525.88" x2="194.93" y2="532.20" stroke="rgba(0,0,0,0.28)" stroke-width="0.6"/>
<line x1="193.73" y1="532.20" x2="196.12" y2="532.20" stroke="rgba(0,0,0,0.35)" stroke-width="0.6"/>
<line x1="206.82" y1="486.03" x2="206.82" y2="499.15" stroke="#c4c4c4" stroke-width="0.8"/>
<line x1="205.62" y1="486.03" x2="208.02" y2="486.03" stroke="#888" stroke-width="0.65"/>
<line x1="206.82" y1="499.15" x2="206.82" y2="512.27" stroke="rgba(0,0,0,0.28)" stroke-width="0.6"/>
<line x1="205.62" y1="512.27" x2="208.02" y2="512.27" stroke="rgba(0,0,0,0.35)" stroke-width="0.6"/>
<line x1="210.57" y1="523.45" x2="210.57" y2="525.40" stroke="#c4c4c4" stroke-width="0.8"/>
<line x1="209.38" y1="523.45" x2="211.77" y2="523.45" stroke="#888" stroke-width="0.65"/>
<line x1="210.57" y1="525.40" x2="210.57" y2="527.34" stroke="rgba(0,0,0,0.28)" stroke-width="0.6"/>
<line x1="209.38" y1="527.34" x2="211.77" y2="527.34" stroke="rgba(0,0,0,0.35)" stroke-width="0.6"/>
<line x1="214.32" y1="521.51" x2="214.32" y2="524.42" stroke="#c4c4c4" stroke-width="0.8"/>
<line x1="213.12" y1="521.51" x2="215.52" y2="521.51" stroke="#888" stroke-width="0.65"/>
<line x1="214.32" y1="524.42" x2="214.32" y2="527.34" stroke="rgba(0,0,0,0.28)" stroke-width="0.6"/>
<line x1="213.12" y1="527.34" x2="215.52" y2="527.34" stroke="rgba(0,0,0,0.35)" stroke-width="0.6"/>
<line x1="139.60" y1="454.44" x2="139.60" y2="532.55" stroke="#555" stroke-width="0.7"/>
<line x1="139.60" y1="532.20" x2="220.00" y2="532.20" stroke="#555" stroke-width="0.7"/>
<line x1="139.60" y1="532.20" x2="141.40" y2="532.20" stroke="#555" stroke-width="0.6"/>
<text x="137.7" y="534.6500000000001" font-size="7.0" text-anchor="end" textLength="2.65" lengthAdjust="spacingAndGlyphs" fill="#444" stroke="#444" stroke-width="0.18">0</text>
<line x1="139.60" y1="522.48" x2="141.40" y2="522.48" stroke="#555" stroke-width="0.6"/>
<text x="137.7" y="524.9300000000001" font-size="7.0" text-anchor="end" textLength="6.62" lengthAdjust="spacingAndGlyphs" fill="#444" stroke="#444" stroke-width="0.18">0.2</text>
<line x1="139.60" y1="512.76" x2="141.40" y2="512.76" stroke="#555" stroke-width="0.6"/>
<text x="137.7" y="515.21" font-size="7.0" text-anchor="end" textLength="6.62" lengthAdjust="spacingAndGlyphs" fill="#444" stroke="#444" stroke-width="0.18">0.4</text>
<line x1="139.60" y1="503.04" x2="141.40" y2="503.04" stroke="#555" stroke-width="0.6"/>
<text x="137.7" y="505.49" font-size="7.0" text-anchor="end" textLength="6.62" lengthAdjust="spacingAndGlyphs" fill="#444" stroke="#444" stroke-width="0.18">0.6</text>
<line x1="139.60" y1="493.32" x2="141.40" y2="493.32" stroke="#555" stroke-width="0.6"/>
<text x="137.7" y="495.77000000000004" font-size="7.0" text-anchor="end" textLength="6.62" lengthAdjust="spacingAndGlyphs" fill="#444" stroke="#444" stroke-width="0.18">0.8</text>
<line x1="139.60" y1="483.60" x2="141.40" y2="483.60" stroke="#555" stroke-width="0.6"/>
<text x="137.7" y="486.05" font-size="7.0" text-anchor="end" textLength="6.62" lengthAdjust="spacingAndGlyphs" fill="#444" stroke="#444" stroke-width="0.18">1.0</text>
<line x1="139.60" y1="473.88" x2="141.40" y2="473.88" stroke="#555" stroke-width="0.6"/>
<text x="137.7" y="476.33000000000004" font-size="7.0" text-anchor="end" textLength="6.62" lengthAdjust="spacingAndGlyphs" fill="#444" stroke="#444" stroke-width="0.18">1.2</text>
<line x1="139.60" y1="464.16" x2="141.40" y2="464.16" stroke="#555" stroke-width="0.6"/>
<text x="137.7" y="466.61000000000007" font-size="7.0" text-anchor="end" textLength="6.62" lengthAdjust="spacingAndGlyphs" fill="#444" stroke="#444" stroke-width="0.18">1.4</text>
<line x1="139.60" y1="454.44" x2="141.40" y2="454.44" stroke="#555" stroke-width="0.6"/>
<text x="137.7" y="456.89000000000004" font-size="7.0" text-anchor="end" textLength="6.62" lengthAdjust="spacingAndGlyphs" fill="#444" stroke="#444" stroke-width="0.18">1.6</text>
<text x="150.5" y="539.0" font-size="6.5" text-anchor="middle" textLength="10.8" lengthAdjust="spacingAndGlyphs" fill="#444" stroke="#444" stroke-width="0.18">Ex 5</text>
<text x="169.9" y="539.0" font-size="6.5" text-anchor="middle" textLength="13.39" lengthAdjust="spacingAndGlyphs" fill="#444" stroke="#444" stroke-width="0.18">Ex 11</text>
<text x="189.3" y="539.0" font-size="6.5" text-anchor="middle" textLength="21.19" lengthAdjust="spacingAndGlyphs" fill="#444" stroke="#444" stroke-width="0.18">Ex 11-12</text>
<text x="208.7" y="539.0" font-size="6.5" text-anchor="middle" textLength="13.8" lengthAdjust="spacingAndGlyphs" fill="#444" stroke="#444" stroke-width="0.18">Ex 12</text>
<text x="177.8" y="545.8" font-size="6.0" text-anchor="middle" textLength="16.68" lengthAdjust="spacingAndGlyphs" fill="#444" stroke="#444" stroke-width="0.18">CCNE2</text>
<text x="119.9" y="493.3" font-size="6.4" text-anchor="middle" textLength="59.5" lengthAdjust="spacingAndGlyphs" transform="rotate(-90 119.9 493.3)" fill="#333">Relative expression level</text>
<text x="127.80000000000001" y="493.3" font-size="6.4" text-anchor="middle" textLength="29.0" lengthAdjust="spacingAndGlyphs" transform="rotate(-90 127.80000000000001 493.3)" fill="#333">(MeOH = 1)</text>
<path d="M164.28,462.10 Q164.28,460.50 165.28,460.50 L174.53,460.50 Q175.53,460.50 175.53,462.10" fill="none" stroke="#777" stroke-width="0.55"/>
<text x="169.9" y="460.1" font-size="5.4" text-anchor="middle" textLength="3.78" lengthAdjust="spacingAndGlyphs" fill="#444" stroke="#444" stroke-width="0.18">**</text>
<path d="M164.28,467.20 Q164.28,465.60 165.28,465.60 L170.78,465.60 Q171.78,465.60 171.78,467.20" fill="none" stroke="#777" stroke-width="0.55"/>
<text x="168.025" y="465.20000000000005" font-size="5.4" text-anchor="middle" textLength="3.78" lengthAdjust="spacingAndGlyphs" fill="#444" stroke="#444" stroke-width="0.18">**</text>
<path d="M168.03,472.20 Q168.03,470.60 169.03,470.60 L174.53,470.60 Q175.53,470.60 175.53,472.20" fill="none" stroke="#777" stroke-width="0.55"/>
<text x="171.775" y="470.20000000000005" font-size="5.4" text-anchor="middle" textLength="1.89" lengthAdjust="spacingAndGlyphs" fill="#444" stroke="#444" stroke-width="0.18">*</text>
<path d="M168.03,476.30 Q168.03,474.70 169.03,474.70 L170.78,474.70 Q171.78,474.70 171.78,476.30" fill="none" stroke="#777" stroke-width="0.55"/>
<text x="169.9" y="474.3" font-size="5.4" text-anchor="middle" textLength="1.89" lengthAdjust="spacingAndGlyphs" fill="#444" stroke="#444" stroke-width="0.18">*</text>
<path d="M183.68,468.20 Q183.68,466.60 184.68,466.60 L193.93,466.60 Q194.93,466.60 194.93,468.20" fill="none" stroke="#777" stroke-width="0.55"/>
<text x="189.3" y="466.20000000000005" font-size="5.4" text-anchor="middle" textLength="5.67" lengthAdjust="spacingAndGlyphs" fill="#444" stroke="#444" stroke-width="0.18">***</text>
<path d="M183.68,473.30 Q183.68,471.70 184.68,471.70 L190.18,471.70 Q191.18,471.70 191.18,473.30" fill="none" stroke="#777" stroke-width="0.55"/>
<text x="187.425" y="471.3" font-size="5.4" text-anchor="middle" textLength="5.67" lengthAdjust="spacingAndGlyphs" fill="#444" stroke="#444" stroke-width="0.18">***</text>
<path d="M187.43,479.00 Q187.43,477.40 188.43,477.40 L193.93,477.40 Q194.93,477.40 194.93,479.00" fill="none" stroke="#777" stroke-width="0.55"/>
<text x="191.175" y="477.0" font-size="5.4" text-anchor="middle" textLength="3.78" lengthAdjust="spacingAndGlyphs" fill="#444" stroke="#444" stroke-width="0.18">**</text>
<path d="M187.43,483.80 Q187.43,482.20 188.43,482.20 L190.18,482.20 Q191.18,482.20 191.18,483.80" fill="none" stroke="#777" stroke-width="0.55"/>
<text x="189.3" y="481.8" font-size="5.4" text-anchor="middle" textLength="3.78" lengthAdjust="spacingAndGlyphs" fill="#444" stroke="#444" stroke-width="0.18">**</text>
<path d="M203.07,469.20 Q203.07,467.60 204.07,467.60 L213.32,467.60 Q214.32,467.60 214.32,469.20" fill="none" stroke="#777" stroke-width="0.55"/>
<text x="208.7" y="467.20000000000005" font-size="5.4" text-anchor="middle" textLength="5.67" lengthAdjust="spacingAndGlyphs" fill="#444" stroke="#444" stroke-width="0.18">***</text>
<path d="M203.07,474.30 Q203.07,472.70 204.07,472.70 L209.57,472.70 Q210.57,472.70 210.57,474.30" fill="none" stroke="#777" stroke-width="0.55"/>
<text x="206.825" y="472.3" font-size="5.4" text-anchor="middle" textLength="5.67" lengthAdjust="spacingAndGlyphs" fill="#444" stroke="#444" stroke-width="0.18">***</text>
<path d="M206.82,479.40 Q206.82,477.80 207.82,477.80 L213.32,477.80 Q214.32,477.80 214.32,479.40" fill="none" stroke="#777" stroke-width="0.55"/>
<text x="210.575" y="477.40000000000003" font-size="5.4" text-anchor="middle" textLength="1.89" lengthAdjust="spacingAndGlyphs" fill="#444" stroke="#444" stroke-width="0.18">*</text>
<path d="M206.82,485.10 Q206.82,483.50 207.82,483.50 L209.57,483.50 Q210.57,483.50 210.57,485.10" fill="none" stroke="#777" stroke-width="0.55"/>
<text x="208.7" y="483.1" font-size="5.4" text-anchor="middle" textLength="1.89" lengthAdjust="spacingAndGlyphs" fill="#444" stroke="#444" stroke-width="0.18">*</text>
<rect x="252.60" y="489.00" width="3.65" height="43.20" fill="#179fe4"/>
<rect x="256.25" y="479.50" width="3.65" height="52.70" fill="#e41f27"/>
<rect x="259.90" y="523.34" width="3.65" height="8.86" fill="#fff200"/>
<rect x="263.55" y="524.94" width="3.65" height="7.26" fill="#119a49"/>
<rect x="272.00" y="489.00" width="3.65" height="43.20" fill="#179fe4"/>
<rect x="275.65" y="491.59" width="3.65" height="40.61" fill="#e41f27"/>
<rect x="279.30" y="525.72" width="3.65" height="6.48" fill="#fff200"/>
<rect x="282.95" y="527.02" width="3.65" height="5.18" fill="#119a49"/>
<rect x="291.20" y="489.00" width="3.65" height="43.20" fill="#179fe4"/>
<rect x="294.85" y="479.50" width="3.65" height="52.70" fill="#e41f27"/>
<rect x="298.50" y="528.31" width="3.65" height="3.89" fill="#fff200"/>
<rect x="302.15" y="527.02" width="3.65" height="5.18" fill="#119a49"/>
<rect x="310.30" y="489.00" width="3.65" height="43.20" fill="#179fe4"/>
<rect x="313.95" y="489.86" width="3.65" height="42.34" fill="#e41f27"/>
<rect x="317.60" y="526.58" width="3.65" height="5.62" fill="#fff200"/>
<rect x="321.25" y="527.45" width="3.65" height="4.75" fill="#119a49"/>
<line x1="258.07" y1="465.24" x2="258.07" y2="479.50" stroke="#c4c4c4" stroke-width="0.8"/>
<line x1="256.88" y1="465.24" x2="259.27" y2="465.24" stroke="#888" stroke-width="0.65"/>
<line x1="258.07" y1="479.50" x2="258.07" y2="493.75" stroke="rgba(0,0,0,0.28)" stroke-width="0.6"/>
<line x1="256.88" y1="493.75" x2="259.27" y2="493.75" stroke="rgba(0,0,0,0.35)" stroke-width="0.6"/>
<line x1="261.72" y1="518.38" x2="261.72" y2="523.34" stroke="#c4c4c4" stroke-width="0.8"/>
<line x1="260.52" y1="518.38" x2="262.92" y2="518.38" stroke="#888" stroke-width="0.65"/>
<line x1="261.72" y1="523.34" x2="261.72" y2="528.31" stroke="rgba(0,0,0,0.28)" stroke-width="0.6"/>
<line x1="260.52" y1="528.31" x2="262.92" y2="528.31" stroke="rgba(0,0,0,0.35)" stroke-width="0.6"/>
<line x1="265.38" y1="523.56" x2="265.38" y2="524.94" stroke="#c4c4c4" stroke-width="0.8"/>
<line x1="264.18" y1="523.56" x2="266.57" y2="523.56" stroke="#888" stroke-width="0.65"/>
<line x1="265.38" y1="524.94" x2="265.38" y2="526.15" stroke="rgba(0,0,0,0.28)" stroke-width="0.6"/>
<line x1="264.18" y1="526.15" x2="266.57" y2="526.15" stroke="rgba(0,0,0,0.35)" stroke-width="0.6"/>
<line x1="277.47" y1="489.00" x2="277.47" y2="491.59" stroke="#c4c4c4" stroke-width="0.8"/>
<line x1="276.27" y1="489.00" x2="278.67" y2="489.00" stroke="#888" stroke-width="0.65"/>
<line x1="277.47" y1="491.59" x2="277.47" y2="494.18" stroke="rgba(0,0,0,0.28)" stroke-width="0.6"/>
<line x1="276.27" y1="494.18" x2="278.67" y2="494.18" stroke="rgba(0,0,0,0.35)" stroke-width="0.6"/>
<line x1="281.12" y1="522.70" x2="281.12" y2="525.72" stroke="#c4c4c4" stroke-width="0.8"/>
<line x1="279.93" y1="522.70" x2="282.32" y2="522.70" stroke="#888" stroke-width="0.65"/>
<line x1="281.12" y1="525.72" x2="281.12" y2="528.74" stroke="rgba(0,0,0,0.28)" stroke-width="0.6"/>
<line x1="279.93" y1="528.74" x2="282.32" y2="528.74" stroke="rgba(0,0,0,0.35)" stroke-width="0.6"/>
<line x1="284.77" y1="525.72" x2="284.77" y2="527.02" stroke="#c4c4c4" stroke-width="0.8"/>
<line x1="283.57" y1="525.72" x2="285.97" y2="525.72" stroke="#888" stroke-width="0.65"/>
<line x1="284.77" y1="527.02" x2="284.77" y2="528.31" stroke="rgba(0,0,0,0.28)" stroke-width="0.6"/>
<line x1="283.57" y1="528.31" x2="285.97" y2="528.31" stroke="rgba(0,0,0,0.35)" stroke-width="0.6"/>
<line x1="296.67" y1="465.24" x2="296.67" y2="479.50" stroke="#c4c4c4" stroke-width="0.8"/>
<line x1="295.47" y1="465.24" x2="297.87" y2="465.24" stroke="#888" stroke-width="0.65"/>
<line x1="296.67" y1="479.50" x2="296.67" y2="493.75" stroke="rgba(0,0,0,0.28)" stroke-width="0.6"/>
<line x1="295.47" y1="493.75" x2="297.87" y2="493.75" stroke="rgba(0,0,0,0.35)" stroke-width="0.6"/>
<line x1="300.32" y1="527.02" x2="300.32" y2="528.31" stroke="#c4c4c4" stroke-width="0.8"/>
<line x1="299.12" y1="527.02" x2="301.52" y2="527.02" stroke="#888" stroke-width="0.65"/>
<line x1="300.32" y1="528.31" x2="300.32" y2="529.61" stroke="rgba(0,0,0,0.28)" stroke-width="0.6"/>
<line x1="299.12" y1="529.61" x2="301.52" y2="529.61" stroke="rgba(0,0,0,0.35)" stroke-width="0.6"/>
<line x1="303.97" y1="525.72" x2="303.97" y2="527.02" stroke="#c4c4c4" stroke-width="0.8"/>
<line x1="302.77" y1="525.72" x2="305.17" y2="525.72" stroke="#888" stroke-width="0.65"/>
<line x1="303.97" y1="527.02" x2="303.97" y2="528.31" stroke="rgba(0,0,0,0.28)" stroke-width="0.6"/>
<line x1="302.77" y1="528.31" x2="305.17" y2="528.31" stroke="rgba(0,0,0,0.35)" stroke-width="0.6"/>
<line x1="315.77" y1="486.84" x2="315.77" y2="489.86" stroke="#c4c4c4" stroke-width="0.8"/>
<line x1="314.57" y1="486.84" x2="316.97" y2="486.84" stroke="#888" stroke-width="0.65"/>
<line x1="315.77" y1="489.86" x2="315.77" y2="492.89" stroke="rgba(0,0,0,0.28)" stroke-width="0.6"/>
<line x1="314.57" y1="492.89" x2="316.97" y2="492.89" stroke="rgba(0,0,0,0.35)" stroke-width="0.6"/>
<line x1="319.43" y1="524.42" x2="319.43" y2="526.58" stroke="#c4c4c4" stroke-width="0.8"/>
<line x1="318.23" y1="524.42" x2="320.62" y2="524.42" stroke="#888" stroke-width="0.65"/>
<line x1="319.43" y1="526.58" x2="319.43" y2="528.74" stroke="rgba(0,0,0,0.28)" stroke-width="0.6"/>
<line x1="318.23" y1="528.74" x2="320.62" y2="528.74" stroke="rgba(0,0,0,0.35)" stroke-width="0.6"/>
<line x1="323.07" y1="526.58" x2="323.07" y2="527.45" stroke="#c4c4c4" stroke-width="0.8"/>
<line x1="321.88" y1="526.58" x2="324.27" y2="526.58" stroke="#888" stroke-width="0.65"/>
<line x1="323.07" y1="527.45" x2="323.07" y2="528.31" stroke="rgba(0,0,0,0.28)" stroke-width="0.6"/>
<line x1="321.88" y1="528.31" x2="324.27" y2="528.31" stroke="rgba(0,0,0,0.35)" stroke-width="0.6"/>
<line x1="249.00" y1="454.44" x2="249.00" y2="532.55" stroke="#555" stroke-width="0.7"/>
<line x1="249.00" y1="532.20" x2="328.00" y2="532.20" stroke="#555" stroke-width="0.7"/>
<line x1="249.00" y1="532.20" x2="250.80" y2="532.20" stroke="#555" stroke-width="0.6"/>
<text x="247.1" y="534.6500000000001" font-size="7.0" text-anchor="end" textLength="2.65" lengthAdjust="spacingAndGlyphs" fill="#444" stroke="#444" stroke-width="0.18">0</text>
<line x1="249.00" y1="523.56" x2="250.80" y2="523.56" stroke="#555" stroke-width="0.6"/>
<text x="247.1" y="526.0100000000001" font-size="7.0" text-anchor="end" textLength="6.62" lengthAdjust="spacingAndGlyphs" fill="#444" stroke="#444" stroke-width="0.18">0.2</text>
<line x1="249.00" y1="514.92" x2="250.80" y2="514.92" stroke="#555" stroke-width="0.6"/>
<text x="247.1" y="517.3700000000001" font-size="7.0" text-anchor="end" textLength="6.62" lengthAdjust="spacingAndGlyphs" fill="#444" stroke="#444" stroke-width="0.18">0.4</text>
<line x1="249.00" y1="506.28" x2="250.80" y2="506.28" stroke="#555" stroke-width="0.6"/>
<text x="247.1" y="508.73" font-size="7.0" text-anchor="end" textLength="6.62" lengthAdjust="spacingAndGlyphs" fill="#444" stroke="#444" stroke-width="0.18">0.6</text>
<line x1="249.00" y1="497.64" x2="250.80" y2="497.64" stroke="#555" stroke-width="0.6"/>
<text x="247.1" y="500.09000000000003" font-size="7.0" text-anchor="end" textLength="6.62" lengthAdjust="spacingAndGlyphs" fill="#444" stroke="#444" stroke-width="0.18">0.8</text>
<line x1="249.00" y1="489.00" x2="250.80" y2="489.00" stroke="#555" stroke-width="0.6"/>
<text x="247.1" y="491.45000000000005" font-size="7.0" text-anchor="end" textLength="6.62" lengthAdjust="spacingAndGlyphs" fill="#444" stroke="#444" stroke-width="0.18">1.0</text>
<line x1="249.00" y1="480.36" x2="250.80" y2="480.36" stroke="#555" stroke-width="0.6"/>
<text x="247.1" y="482.81" font-size="7.0" text-anchor="end" textLength="6.62" lengthAdjust="spacingAndGlyphs" fill="#444" stroke="#444" stroke-width="0.18">1.2</text>
<line x1="249.00" y1="471.72" x2="250.80" y2="471.72" stroke="#555" stroke-width="0.6"/>
<text x="247.1" y="474.17" font-size="7.0" text-anchor="end" textLength="6.62" lengthAdjust="spacingAndGlyphs" fill="#444" stroke="#444" stroke-width="0.18">1.4</text>
<line x1="249.00" y1="463.08" x2="250.80" y2="463.08" stroke="#555" stroke-width="0.6"/>
<text x="247.1" y="465.53000000000003" font-size="7.0" text-anchor="end" textLength="6.62" lengthAdjust="spacingAndGlyphs" fill="#444" stroke="#444" stroke-width="0.18">1.6</text>
<line x1="249.00" y1="454.44" x2="250.80" y2="454.44" stroke="#555" stroke-width="0.6"/>
<text x="247.1" y="456.89000000000004" font-size="7.0" text-anchor="end" textLength="6.62" lengthAdjust="spacingAndGlyphs" fill="#444" stroke="#444" stroke-width="0.18">1.8</text>
<text x="259.9" y="539.0" font-size="6.5" text-anchor="middle" textLength="10.8" lengthAdjust="spacingAndGlyphs" fill="#444" stroke="#444" stroke-width="0.18">Ex 3</text>
<text x="279.3" y="539.0" font-size="6.5" text-anchor="middle" textLength="10.8" lengthAdjust="spacingAndGlyphs" fill="#444" stroke="#444" stroke-width="0.18">Ex 6</text>
<text x="298.5" y="539.0" font-size="6.5" text-anchor="middle" textLength="15.59" lengthAdjust="spacingAndGlyphs" fill="#444" stroke="#444" stroke-width="0.18">Ex 6-7</text>
<text x="317.6" y="539.0" font-size="6.5" text-anchor="middle" textLength="10.8" lengthAdjust="spacingAndGlyphs" fill="#444" stroke="#444" stroke-width="0.18">Ex 7</text>
<text x="287.5" y="545.8" font-size="6.0" text-anchor="middle" textLength="11.76" lengthAdjust="spacingAndGlyphs" fill="#444" stroke="#444" stroke-width="0.18">E2F1</text>
<text x="229.9" y="493.3" font-size="6.4" text-anchor="middle" textLength="59.5" lengthAdjust="spacingAndGlyphs" transform="rotate(-90 229.9 493.3)" fill="#333">Relative expression level</text>
<text x="237.4" y="493.3" font-size="6.4" text-anchor="middle" textLength="29.0" lengthAdjust="spacingAndGlyphs" transform="rotate(-90 237.4 493.3)" fill="#333">(MeOH = 1)</text>
<path d="M254.42,451.60 Q254.42,450.00 255.42,450.00 L264.38,450.00 Q265.38,450.00 265.38,451.60" fill="none" stroke="#777" stroke-width="0.55"/>
<text x="259.9" y="449.6" font-size="5.4" text-anchor="middle" textLength="5.67" lengthAdjust="spacingAndGlyphs" fill="#444" stroke="#444" stroke-width="0.18">***</text>
<path d="M254.42,456.50 Q254.42,454.90 255.42,454.90 L260.73,454.90 Q261.73,454.90 261.73,456.50" fill="none" stroke="#777" stroke-width="0.55"/>
<text x="258.075" y="454.5" font-size="5.4" text-anchor="middle" textLength="5.67" lengthAdjust="spacingAndGlyphs" fill="#444" stroke="#444" stroke-width="0.18">***</text>
<path d="M258.07,461.70 Q258.07,460.10 259.07,460.10 L264.38,460.10 Q265.38,460.10 265.38,461.70" fill="none" stroke="#777" stroke-width="0.55"/>
<text x="261.725" y="459.70000000000005" font-size="5.4" text-anchor="middle" textLength="5.67" lengthAdjust="spacingAndGlyphs" fill="#444" stroke="#444" stroke-width="0.18">***</text>
<path d="M258.07,466.60 Q258.07,465.00 259.07,465.00 L260.73,465.00 Q261.73,465.00 261.73,466.60" fill="none" stroke="#777" stroke-width="0.55"/>
<text x="259.9" y="464.6" font-size="5.4" text-anchor="middle" textLength="5.67" lengthAdjust="spacingAndGlyphs" fill="#444" stroke="#444" stroke-width="0.18">***</text>
<path d="M273.82,474.40 Q273.82,472.80 274.82,472.80 L283.77,472.80 Q284.77,472.80 284.77,474.40" fill="none" stroke="#777" stroke-width="0.55"/>
<text x="279.29999999999995" y="472.40000000000003" font-size="5.4" text-anchor="middle" textLength="5.67" lengthAdjust="spacingAndGlyphs" fill="#444" stroke="#444" stroke-width="0.18">***</text>
<path d="M273.82,478.00 Q273.82,476.40 274.82,476.40 L280.12,476.40 Q281.12,476.40 281.12,478.00" fill="none" stroke="#777" stroke-width="0.55"/>
<text x="277.475" y="476.0" font-size="5.4" text-anchor="middle" textLength="5.67" lengthAdjust="spacingAndGlyphs" fill="#444" stroke="#444" stroke-width="0.18">***</text>
<path d="M277.48,482.50 Q277.48,480.90 278.48,480.90 L283.77,480.90 Q284.77,480.90 284.77,482.50" fill="none" stroke="#777" stroke-width="0.55"/>
<text x="281.125" y="480.5" font-size="5.4" text-anchor="middle" textLength="5.67" lengthAdjust="spacingAndGlyphs" fill="#444" stroke="#444" stroke-width="0.18">***</text>
<path d="M277.48,487.60 Q277.48,486.00 278.48,486.00 L280.12,486.00 Q281.12,486.00 281.12,487.60" fill="none" stroke="#777" stroke-width="0.55"/>
<text x="279.3" y="485.6" font-size="5.4" text-anchor="middle" textLength="5.67" lengthAdjust="spacingAndGlyphs" fill="#444" stroke="#444" stroke-width="0.18">***</text>
<path d="M293.02,453.00 Q293.02,451.40 294.02,451.40 L302.97,451.40 Q303.97,451.40 303.97,453.00" fill="none" stroke="#777" stroke-width="0.55"/>
<text x="298.5" y="451.0" font-size="5.4" text-anchor="middle" textLength="5.67" lengthAdjust="spacingAndGlyphs" fill="#444" stroke="#444" stroke-width="0.18">***</text>
<path d="M293.02,458.10 Q293.02,456.50 294.02,456.50 L299.32,456.50 Q300.32,456.50 300.32,458.10" fill="none" stroke="#777" stroke-width="0.55"/>
<text x="296.67499999999995" y="456.1" font-size="5.4" text-anchor="middle" textLength="5.67" lengthAdjust="spacingAndGlyphs" fill="#444" stroke="#444" stroke-width="0.18">***</text>
<path d="M296.68,464.20 Q296.68,462.60 297.68,462.60 L302.97,462.60 Q303.97,462.60 303.97,464.20" fill="none" stroke="#777" stroke-width="0.55"/>
<text x="300.325" y="462.20000000000005" font-size="5.4" text-anchor="middle" textLength="5.67" lengthAdjust="spacingAndGlyphs" fill="#444" stroke="#444" stroke-width="0.18">***</text>
<path d="M296.68,469.30 Q296.68,467.70 297.68,467.70 L299.32,467.70 Q300.32,467.70 300.32,469.30" fill="none" stroke="#777" stroke-width="0.55"/>
<text x="298.5" y="467.3" font-size="5.4" text-anchor="middle" textLength="5.67" lengthAdjust="spacingAndGlyphs" fill="#444" stroke="#444" stroke-width="0.18">***</text>
<path d="M312.12,469.90 Q312.12,468.30 313.12,468.30 L322.07,468.30 Q323.07,468.30 323.07,469.90" fill="none" stroke="#777" stroke-width="0.55"/>
<text x="317.6" y="467.90000000000003" font-size="5.4" text-anchor="middle" textLength="5.67" lengthAdjust="spacingAndGlyphs" fill="#444" stroke="#444" stroke-width="0.18">***</text>
<path d="M312.12,474.80 Q312.12,473.20 313.12,473.20 L318.43,473.20 Q319.43,473.20 319.43,474.80" fill="none" stroke="#777" stroke-width="0.55"/>
<text x="315.775" y="472.8" font-size="5.4" text-anchor="middle" textLength="5.67" lengthAdjust="spacingAndGlyphs" fill="#444" stroke="#444" stroke-width="0.18">***</text>
<path d="M315.78,480.50 Q315.78,478.90 316.78,478.90 L322.07,478.90 Q323.07,478.90 323.07,480.50" fill="none" stroke="#777" stroke-width="0.55"/>
<text x="319.425" y="478.5" font-size="5.4" text-anchor="middle" textLength="5.67" lengthAdjust="spacingAndGlyphs" fill="#444" stroke="#444" stroke-width="0.18">***</text>
<path d="M315.78,485.60 Q315.78,484.00 316.78,484.00 L318.43,484.00 Q319.43,484.00 319.43,485.60" fill="none" stroke="#777" stroke-width="0.55"/>
<text x="317.6" y="483.6" font-size="5.4" text-anchor="middle" textLength="5.67" lengthAdjust="spacingAndGlyphs" fill="#444" stroke="#444" stroke-width="0.18">***</text>
<rect x="332.40" y="470.10" width="4.00" height="4.00" fill="#179fe4"/>
<text x="338.6" y="474.40000000000003" font-size="6.5" textLength="15.59" lengthAdjust="spacingAndGlyphs" fill="#3a3a3a" stroke="#3a3a3a" stroke-width="0.18">MeOH</text>
<rect x="332.40" y="478.60" width="4.00" height="4.00" fill="#e41f27"/>
<text x="338.6" y="482.90000000000003" font-size="6.5" textLength="33.13" lengthAdjust="spacingAndGlyphs" fill="#3a3a3a" stroke="#3a3a3a" stroke-width="0.18">MeOH + CHX</text>
<rect x="332.40" y="487.10" width="4.00" height="4.00" fill="#fff200"/>
<text x="338.6" y="491.40000000000003" font-size="6.5" textLength="10.8" lengthAdjust="spacingAndGlyphs" fill="#3a3a3a" stroke="#3a3a3a" stroke-width="0.18">SSA</text>
<rect x="332.40" y="495.60" width="4.00" height="4.00" fill="#119a49"/>
<text x="338.6" y="499.90000000000003" font-size="6.5" textLength="28.04" lengthAdjust="spacingAndGlyphs" fill="#3a3a3a" stroke="#3a3a3a" stroke-width="0.18">SSA + CHX</text>
</svg></body></html>
